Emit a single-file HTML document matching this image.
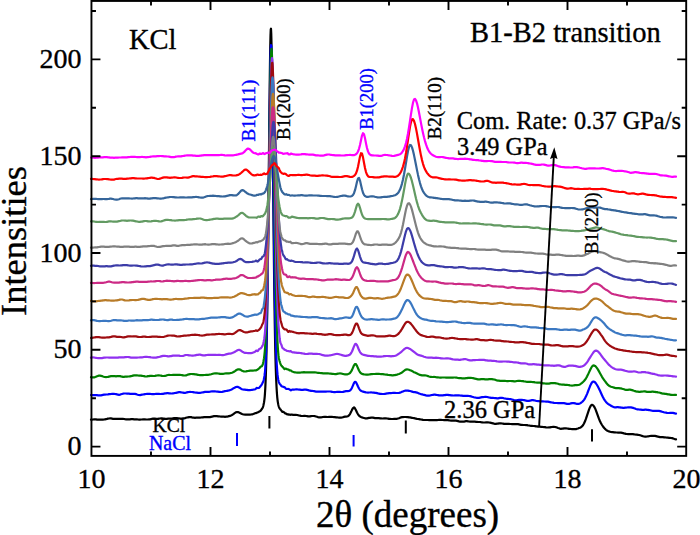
<!DOCTYPE html>
<html><head><meta charset="utf-8"><style>
html,body{margin:0;padding:0;background:#fff;}
svg{display:block;}
text{font-family:"Liberation Serif",serif;fill:#000;stroke:#000;stroke-width:0.35px;}
</style></head><body>
<svg width="700" height="535" viewBox="0 0 700 535">
<rect x="0" y="0" width="700" height="535" fill="#fff"/>
<g fill="none" stroke-width="2.2" stroke-linejoin="round" stroke-linecap="round">
<polyline points="91,419.7 92,419.6 93,419.5 94,419.4 95,419.4 96,419.4 97,419.6 98,419.7 99,419.7 100,419.7 101,419.7 102,419.6 103,419.6 104,419.5 105,419.3 106,419.1 107,418.9 108,418.6 109,418.5 110,418.4 111,418.4 112,418.6 113,418.8 114,418.9 115,418.9 116,418.9 117,418.8 118,418.8 119,418.8 120,418.8 121,418.8 122,418.8 123,418.9 124,419.0 125,419.2 126,419.3 127,419.4 128,419.4 129,419.4 130,419.3 131,419.2 132,419.2 133,419.2 134,419.3 135,419.3 136,419.4 137,419.4 138,419.5 139,419.6 140,419.6 141,419.5 142,419.5 143,419.4 144,419.4 145,419.4 146,419.5 147,419.5 148,419.5 149,419.4 150,419.3 151,419.1 152,418.9 153,418.7 154,418.7 155,418.7 156,418.8 157,418.9 158,418.8 159,418.6 160,418.5 161,418.4 162,418.4 163,418.5 164,418.6 165,418.8 166,418.8 167,418.8 168,418.7 169,418.7 170,418.6 171,418.6 172,418.5 173,418.3 174,418.2 175,418.1 176,418.1 177,418.2 178,418.3 179,418.4 180,418.5 181,418.5 182,418.5 183,418.4 184,418.3 185,418.1 186,417.8 187,417.5 188,417.3 189,417.1 190,417.0 191,417.1 192,417.4 193,417.6 194,417.7 195,417.8 196,417.7 197,417.7 198,417.7 199,417.6 200,417.6 201,417.5 202,417.4 203,417.3 204,417.2 205,417.1 206,417.1 207,417.1 208,417.1 209,417.1 210,417.1 211,416.9 212,416.7 213,416.4 214,416.2 215,416.1 216,416.1 217,416.2 218,416.3 219,416.4 220,416.5 221,416.6 222,416.6 223,416.7 224,416.7 225,416.8 226,416.7 227,416.6 228,416.4 229,416.1 230,415.9 231,415.5 232,415.0 233,414.4 234,413.6 235,412.9 236,412.3 237,412.0 238,412.1 239,412.5 240,413.0 241,413.5 242,414.0 243,414.3 244,414.5 245,414.6 246,414.7 247,414.7 248,414.7 249,414.7 250,414.6 251,414.5 252,414.3 253,414.1 254,413.7 255,413.3 255.25,413.2 255.50,413.1 255.75,413.1 256,413.1 256.25,413.1 256.50,413.0 256.75,412.8 257,412.6 257.25,412.5 257.50,412.4 257.75,412.3 258,412.3 258.25,412.2 258.50,412.1 258.75,411.9 259,411.7 259.25,411.6 259.50,411.4 259.75,411.3 260,411.2 260.25,411.1 260.50,410.8 260.75,410.5 261,410.2 261.25,409.8 261.50,409.4 261.75,409.1 262,408.9 262.25,408.5 262.50,408.1 262.75,407.6 263,406.9 263.25,406.1 263.50,405.0 263.75,403.8 264,402.5 264.25,400.8 264.50,398.8 264.75,396.3 265,392.9 265.25,388.7 265.50,383.5 265.75,377.3 266,369.9 266.25,361.1 266.50,350.8 266.75,338.7 267,324.7 267.25,308.9 267.50,291.1 267.75,271.5 268,249.9 268.25,226.8 268.50,202.3 268.75,177.1 269,151.7 269.25,126.7 269.50,102.9 269.75,81.0 270,62.0 270.25,46.4 270.50,35.3 270.75,29.3 271,28.7 271.25,33.7 271.50,43.9 271.75,58.8 272,77.5 272.25,99.2 272.50,122.8 272.75,147.6 273,172.9 273.25,197.9 273.50,222.4 273.75,245.7 274,267.6 274.25,287.8 274.50,306.1 274.75,322.4 275,336.6 275.25,348.7 275.50,359.0 275.75,367.6 276,374.9 276.25,381.0 276.50,386.2 276.75,390.6 277,394.3 277.25,397.3 277.50,399.6 277.75,401.6 278,403.1 278.25,404.4 278.50,405.5 278.75,406.4 279,407.1 279.25,407.7 279.50,408.2 279.75,408.6 280,408.9 280.25,409.2 280.50,409.5 280.75,409.8 281,410.0 281.25,410.4 281.50,410.7 281.75,411.1 282,411.5 282.25,411.8 282.50,411.9 282.75,411.9 283,411.8 283.25,411.8 283.50,411.9 283.75,412.1 284,412.3 284.25,412.5 284.50,412.7 284.75,413.0 285,413.3 285.25,413.5 285.50,413.6 285.75,413.6 286,413.6 286.25,413.6 286.50,413.8 286.75,414.0 287,414.3 287.25,414.4 287.50,414.5 287.75,414.4 288,414.4 288.25,414.4 288.50,414.4 288.75,414.6 289,414.6 289.25,414.7 289.50,414.7 289.75,414.7 290,414.7 290.25,414.8 290.50,414.8 290.75,414.7 291,414.6 291.25,414.6 291.50,414.6 291.75,414.7 292,414.7 293,414.8 294,414.8 295,414.8 296,414.9 297,415.0 298,415.2 299,415.5 300,415.7 301,415.9 302,416.0 303,416.0 304,415.9 305,415.9 306,416.0 307,416.1 308,416.3 309,416.3 310,416.3 311,416.1 312,416.0 313,416.0 314,416.0 315,416.2 316,416.5 317,416.8 318,417.1 319,417.3 320,417.4 321,417.3 322,417.2 323,417.0 324,416.9 325,416.9 326,416.9 327,417.0 328,417.0 329,416.9 330,416.8 331,416.8 332,416.9 333,417.0 334,417.1 335,417.2 336,417.3 337,417.3 338,417.5 339,417.6 340,417.7 341,417.7 342,417.5 343,417.2 344,416.9 345,416.7 346,416.6 347,416.5 348,416.2 349,415.4 350,414.1 351,412.1 352,409.9 353,408.1 354,407.4 355,408.4 356,410.3 357,412.5 358,414.3 359,415.6 360,416.5 361,417.0 362,417.4 363,417.7 364,418.0 365,418.3 366,418.3 367,418.3 368,418.1 369,417.9 370,417.8 371,417.7 372,417.6 373,417.7 374,417.9 375,418.1 376,418.1 377,418.1 378,418.1 379,418.2 380,418.3 381,418.4 382,418.5 383,418.5 384,418.4 385,418.4 386,418.4 387,418.5 388,418.6 389,418.8 390,418.9 391,419.0 392,419.0 393,419.0 394,418.9 395,418.9 396,418.9 397,418.8 398,418.5 399,418.2 400,417.7 401,417.4 402,417.2 403,417.1 404,417.0 405,417.0 406,417.0 407,417.1 408,417.1 409,417.3 410,417.4 411,417.6 412,417.8 413,418.0 414,418.2 415,418.4 416,418.7 417,418.9 418,419.0 419,419.1 420,419.3 421,419.5 422,419.7 423,419.9 424,420.0 425,420.0 426,420.0 427,420.0 428,420.0 429,420.1 430,420.1 431,420.1 432,420.1 433,420.1 434,420.2 435,420.2 436,420.2 437,420.1 438,420.0 439,419.9 440,419.9 441,419.9 442,420.0 443,420.0 444,420.1 445,420.1 446,420.1 447,420.1 448,420.2 449,420.3 450,420.5 451,420.6 452,420.7 453,420.7 454,420.7 455,420.7 456,420.7 457,420.9 458,421.1 459,421.4 460,421.6 461,421.7 462,421.7 463,421.7 464,421.6 465,421.4 466,421.2 467,421.2 468,421.3 469,421.5 470,421.6 471,421.6 472,421.6 473,421.7 474,421.7 475,421.7 476,421.8 477,421.9 478,422.0 479,422.0 480,422.0 481,422.2 482,422.3 483,422.5 484,422.5 485,422.5 486,422.4 487,422.3 488,422.4 489,422.5 490,422.7 491,422.9 492,423.1 493,423.3 494,423.6 495,423.8 496,423.8 497,423.7 498,423.6 499,423.4 500,423.3 501,423.4 502,423.5 503,423.6 504,423.8 505,423.9 506,423.9 507,423.9 508,423.9 509,423.9 510,424.0 511,424.0 512,424.1 513,424.1 514,424.1 515,424.1 516,424.1 517,424.1 518,424.2 519,424.4 520,424.6 521,424.8 522,424.9 523,425.0 524,425.0 525,425.0 526,425.1 527,425.2 528,425.4 529,425.5 530,425.7 531,425.8 532,425.9 533,426.0 534,426.0 535,426.1 536,426.3 537,426.4 538,426.6 539,426.7 540,426.7 541,426.8 542,426.9 543,427.0 544,427.1 545,427.2 546,427.4 547,427.5 548,427.5 549,427.4 550,427.3 551,427.1 552,427.0 553,426.9 554,426.9 555,427.0 556,427.2 557,427.6 558,428.0 559,428.3 560,428.6 561,428.8 562,428.7 563,428.6 564,428.4 565,428.3 566,428.3 567,428.5 568,428.6 569,428.8 570,428.9 571,429.0 572,429.1 573,429.2 574,429.2 575,429.2 576,429.1 577,428.8 578,428.5 579,428.1 580,427.7 581,427.2 582,426.4 583,425.2 584,423.5 585,421.3 586,418.7 587,415.7 588,412.7 589,409.7 590,407.2 591,405.4 592,404.8 593,405.2 594,406.4 595,408.2 596,410.6 597,413.4 598,416.2 599,418.9 600,421.2 601,423.3 602,425.0 603,426.5 604,427.7 605,428.9 606,429.8 607,430.5 608,431.0 609,431.4 610,431.7 611,432.0 612,432.1 613,432.2 614,432.3 615,432.4 616,432.5 617,432.5 618,432.6 619,432.5 620,432.6 621,432.6 622,432.8 623,433.1 624,433.4 625,433.6 626,433.9 627,434.0 628,434.1 629,434.1 630,434.1 631,434.1 632,434.1 633,434.2 634,434.3 635,434.5 636,434.6 637,434.7 638,434.8 639,435.0 640,435.2 641,435.5 642,435.9 643,436.2 644,436.5 645,436.6 646,436.6 647,436.5 648,436.3 649,436.2 650,436.0 651,435.9 652,435.8 653,435.8 654,435.8 655,435.9 656,436.1 657,436.4 658,436.7 659,436.9 660,437.1 661,437.1 662,437.2 663,437.2 664,437.3 665,437.4 666,437.5 667,437.6 668,437.7 669,437.8 670,437.9 671,438.0 672,438.1 673,438.4 674,438.8 675,439.1 676,439.3" stroke="#000000"/>
<polyline points="91,395.0 92,395.2 93,395.2 94,395.2 95,395.2 96,395.2 97,395.2 98,395.3 99,395.4 100,395.4 101,395.3 102,395.1 103,394.9 104,394.7 105,394.6 106,394.5 107,394.5 108,394.4 109,394.2 110,394.1 111,394.0 112,393.9 113,393.9 114,393.9 115,394.0 116,394.2 117,394.4 118,394.7 119,394.8 120,394.6 121,394.3 122,394.0 123,393.7 124,393.5 125,393.5 126,393.5 127,393.6 128,393.6 129,393.7 130,393.8 131,393.9 132,393.9 133,393.8 134,393.8 135,393.9 136,394.1 137,394.5 138,394.8 139,395.0 140,395.1 141,394.9 142,394.7 143,394.5 144,394.3 145,394.1 146,394.0 147,393.9 148,393.8 149,393.8 150,393.9 151,394.0 152,394.1 153,394.2 154,394.1 155,394.0 156,393.9 157,393.9 158,393.9 159,393.9 160,394.0 161,394.0 162,393.9 163,393.8 164,393.6 165,393.4 166,393.3 167,393.2 168,393.2 169,393.3 170,393.4 171,393.5 172,393.5 173,393.3 174,393.2 175,393.0 176,392.8 177,392.6 178,392.4 179,392.2 180,392.2 181,392.3 182,392.5 183,392.7 184,392.9 185,392.8 186,392.6 187,392.3 188,392.1 189,392.0 190,391.9 191,392.0 192,392.0 193,392.1 194,392.3 195,392.5 196,392.6 197,392.7 198,392.8 199,392.8 200,392.8 201,392.7 202,392.5 203,392.3 204,392.1 205,391.9 206,391.9 207,391.9 208,391.9 209,391.8 210,391.7 211,391.5 212,391.3 213,391.3 214,391.3 215,391.4 216,391.5 217,391.6 218,391.7 219,391.8 220,391.9 221,392.0 222,391.9 223,391.7 224,391.4 225,391.2 226,391.0 227,390.8 228,390.6 229,390.4 230,390.1 231,389.7 232,389.2 233,388.6 234,388.1 235,387.5 236,387.0 237,386.8 238,386.9 239,387.4 240,388.0 241,388.7 242,389.2 243,389.5 244,389.6 245,389.7 246,389.8 247,389.9 248,390.1 249,390.1 250,390.1 251,390.0 252,389.8 253,389.7 254,389.5 255,389.3 255.25,389.2 255.50,389.0 255.75,388.8 256,388.6 256.25,388.4 256.50,388.1 256.75,387.9 257,387.9 257.25,388.0 257.50,388.0 257.75,388.1 258,388.1 258.25,388.0 258.50,388.0 258.75,387.9 259,387.8 259.25,387.7 259.50,387.4 259.75,387.1 260,386.8 260.25,386.5 260.50,386.2 260.75,385.9 261,385.6 261.25,385.3 261.50,384.9 261.75,384.5 262,384.0 262.25,383.6 262.50,383.1 262.75,382.6 263,382.1 263.25,381.4 263.50,380.6 263.75,379.7 264,378.6 264.25,377.3 264.50,375.9 264.75,374.0 265,371.6 265.25,368.4 265.50,364.3 265.75,359.3 266,353.2 266.25,346.1 266.50,337.7 266.75,327.8 267,316.4 267.25,303.4 267.50,288.7 267.75,272.2 268,254.1 268.25,234.5 268.50,213.7 268.75,192.0 269,169.6 269.25,147.3 269.50,125.6 269.75,105.2 270,86.7 270.25,70.8 270.50,58.1 270.75,49.4 271,45.1 271.25,45.5 271.50,50.6 271.75,60.1 272,73.5 272.25,90.1 272.50,109.1 272.75,129.9 273,151.8 273.25,174.1 273.50,196.2 273.75,217.9 274,238.5 274.25,257.8 274.50,275.6 274.75,291.6 275,306.0 275.25,318.6 275.50,329.5 275.75,338.9 276,347.0 276.25,353.7 276.50,359.4 276.75,364.2 277,368.1 277.25,371.4 277.50,374.2 277.75,376.4 278,378.3 278.25,379.8 278.50,380.9 278.75,381.8 279,382.5 279.25,383.0 279.50,383.5 279.75,383.9 280,384.2 280.25,384.4 280.50,384.7 280.75,385.1 281,385.5 281.25,385.9 281.50,386.1 281.75,386.3 282,386.4 282.25,386.5 282.50,386.5 282.75,386.6 283,386.7 283.25,386.9 283.50,387.0 283.75,387.1 284,387.2 284.25,387.2 284.50,387.2 284.75,387.3 285,387.5 285.25,387.9 285.50,388.2 285.75,388.5 286,388.7 286.25,388.9 286.50,388.9 286.75,389.0 287,389.0 287.25,389.0 287.50,389.0 287.75,388.9 288,388.9 288.25,388.9 288.50,389.0 288.75,389.1 289,389.2 289.25,389.3 289.50,389.4 289.75,389.5 290,389.7 290.25,390.0 290.50,390.2 290.75,390.3 291,390.3 291.25,390.2 291.50,390.0 291.75,389.8 292,389.7 293,389.7 294,389.6 295,389.5 296,389.4 297,389.4 298,389.5 299,389.6 300,389.7 301,389.8 302,389.9 303,389.8 304,389.7 305,389.6 306,389.6 307,389.8 308,390.1 309,390.4 310,390.6 311,390.8 312,390.9 313,391.0 314,391.2 315,391.4 316,391.6 317,391.7 318,391.7 319,391.6 320,391.6 321,391.6 322,391.7 323,391.7 324,391.7 325,391.7 326,391.6 327,391.5 328,391.5 329,391.5 330,391.5 331,391.6 332,391.8 333,392.0 334,392.1 335,392.1 336,392.0 337,391.9 338,391.8 339,391.9 340,391.9 341,392.0 342,392.0 343,391.9 344,391.6 345,391.4 346,391.2 347,391.1 348,391.1 349,391.0 350,390.5 351,389.5 352,387.7 353,385.3 354,383.0 355,381.8 356,382.3 357,384.2 358,386.5 359,388.5 360,390.0 361,390.8 362,391.3 363,391.6 364,391.9 365,392.2 366,392.4 367,392.5 368,392.6 369,392.5 370,392.5 371,392.4 372,392.5 373,392.6 374,392.7 375,392.8 376,392.9 377,393.1 378,393.4 379,393.6 380,393.8 381,393.9 382,394.0 383,394.0 384,394.0 385,393.8 386,393.7 387,393.4 388,393.3 389,393.2 390,393.1 391,393.1 392,393.0 393,392.9 394,392.9 395,392.9 396,393.0 397,393.0 398,393.0 399,392.9 400,392.7 401,392.3 402,391.8 403,391.4 404,391.0 405,390.7 406,390.6 407,390.6 408,390.6 409,390.8 410,391.0 411,391.3 412,391.6 413,391.9 414,392.1 415,392.2 416,392.4 417,392.6 418,393.0 419,393.4 420,393.8 421,394.1 422,394.3 423,394.6 424,394.8 425,395.1 426,395.4 427,395.6 428,395.7 429,395.7 430,395.5 431,395.2 432,395.0 433,394.8 434,394.7 435,394.7 436,394.8 437,395.0 438,395.2 439,395.4 440,395.4 441,395.4 442,395.4 443,395.3 444,395.2 445,395.1 446,394.9 447,394.9 448,394.9 449,395.1 450,395.2 451,395.3 452,395.4 453,395.5 454,395.5 455,395.4 456,395.3 457,395.3 458,395.3 459,395.4 460,395.5 461,395.6 462,395.7 463,395.8 464,395.9 465,395.9 466,395.9 467,395.9 468,395.9 469,396.0 470,396.2 471,396.4 472,396.7 473,397.0 474,397.3 475,397.5 476,397.7 477,397.8 478,397.8 479,397.8 480,397.6 481,397.4 482,397.2 483,397.1 484,397.0 485,396.9 486,396.9 487,397.0 488,397.2 489,397.5 490,397.7 491,397.9 492,397.9 493,397.9 494,398.0 495,398.1 496,398.2 497,398.3 498,398.3 499,398.1 500,397.9 501,397.8 502,397.8 503,398.0 504,398.3 505,398.5 506,398.7 507,398.8 508,398.9 509,399.0 510,399.1 511,399.2 512,399.5 513,399.8 514,400.1 515,400.3 516,400.3 517,400.2 518,400.0 519,399.8 520,399.8 521,399.8 522,399.9 523,400.0 524,400.2 525,400.4 526,400.6 527,400.8 528,400.9 529,400.8 530,400.7 531,400.4 532,400.2 533,400.2 534,400.3 535,400.5 536,400.8 537,401.0 538,401.1 539,401.2 540,401.3 541,401.3 542,401.3 543,401.4 544,401.5 545,401.5 546,401.6 547,401.6 548,401.7 549,401.9 550,402.1 551,402.3 552,402.5 553,402.7 554,402.9 555,403.0 556,403.0 557,403.0 558,403.1 559,403.2 560,403.2 561,403.2 562,403.2 563,403.1 564,403.2 565,403.4 566,403.6 567,403.8 568,403.9 569,403.8 570,403.6 571,403.3 572,403.1 573,403.0 574,403.1 575,403.3 576,403.6 577,403.8 578,403.9 579,403.8 580,403.4 581,402.8 582,402.0 583,401.1 584,399.8 585,398.3 586,396.3 587,394.1 588,391.5 589,388.8 590,386.3 591,384.1 592,382.4 593,381.6 594,381.7 595,382.3 596,383.5 597,385.0 598,386.8 599,388.7 600,390.8 601,393.0 602,395.2 603,397.3 604,399.1 605,400.6 606,401.9 607,403.0 608,403.9 609,404.6 610,405.1 611,405.7 612,406.3 613,406.8 614,407.1 615,407.3 616,407.3 617,407.2 618,407.2 619,407.3 620,407.4 621,407.6 622,407.7 623,407.8 624,407.8 625,407.7 626,407.6 627,407.5 628,407.4 629,407.4 630,407.4 631,407.4 632,407.6 633,407.8 634,408.2 635,408.6 636,409.0 637,409.3 638,409.4 639,409.5 640,409.6 641,409.7 642,409.8 643,409.8 644,409.8 645,409.7 646,409.7 647,409.8 648,409.9 649,410.1 650,410.2 651,410.5 652,410.7 653,410.8 654,410.9 655,410.8 656,410.8 657,410.8 658,410.8 659,410.9 660,411.1 661,411.4 662,411.7 663,412.0 664,412.3 665,412.5 666,412.7 667,412.9 668,413.0 669,413.0 670,412.9 671,412.8 672,412.8 673,412.9 674,413.1 675,413.4 676,413.6" stroke="#0000ff"/>
<polyline points="91,377.2 92,377.4 93,377.4 94,377.4 95,377.1 96,376.7 97,376.3 98,375.9 99,375.7 100,375.6 101,375.8 102,376.1 103,376.5 104,376.8 105,377.0 106,377.1 107,377.0 108,376.9 109,376.6 110,376.4 111,376.2 112,376.1 113,376.1 114,376.1 115,376.2 116,376.3 117,376.2 118,376.1 119,376.1 120,376.1 121,376.4 122,376.6 123,376.8 124,376.8 125,376.7 126,376.6 127,376.6 128,376.5 129,376.5 130,376.3 131,376.1 132,375.9 133,375.6 134,375.4 135,375.3 136,375.4 137,375.4 138,375.5 139,375.6 140,375.6 141,375.6 142,375.8 143,376.0 144,376.2 145,376.4 146,376.5 147,376.4 148,376.2 149,376.1 150,375.9 151,375.9 152,375.9 153,376.0 154,376.0 155,375.9 156,375.7 157,375.5 158,375.4 159,375.4 160,375.5 161,375.6 162,375.9 163,376.0 164,376.0 165,375.8 166,375.6 167,375.3 168,375.0 169,374.9 170,375.0 171,375.0 172,375.0 173,374.9 174,374.8 175,374.8 176,374.8 177,374.9 178,374.9 179,374.9 180,374.9 181,375.0 182,375.1 183,375.3 184,375.5 185,375.5 186,375.4 187,375.0 188,374.6 189,374.3 190,374.1 191,374.0 192,374.0 193,374.1 194,374.2 195,374.3 196,374.4 197,374.6 198,374.8 199,375.0 200,375.2 201,375.2 202,375.2 203,375.1 204,375.0 205,375.0 206,374.9 207,374.9 208,374.8 209,374.7 210,374.5 211,374.3 212,374.0 213,373.7 214,373.5 215,373.3 216,373.3 217,373.4 218,373.5 219,373.6 220,373.8 221,373.9 222,373.9 223,373.8 224,373.7 225,373.5 226,373.3 227,373.3 228,373.3 229,373.3 230,373.2 231,373.0 232,372.7 233,372.3 234,371.7 235,371.1 236,370.3 237,369.7 238,369.4 239,369.3 240,369.6 241,370.1 242,370.7 243,371.1 244,371.4 245,371.5 246,371.4 247,371.2 248,371.0 249,370.8 250,370.7 251,370.7 252,370.7 253,370.6 254,370.5 255,370.4 255.25,370.5 255.50,370.5 255.75,370.5 256,370.4 256.25,370.2 256.50,370.2 256.75,370.1 257,370.0 257.25,369.8 257.50,369.6 257.75,369.4 258,369.3 258.25,369.1 258.50,368.9 258.75,368.7 259,368.5 259.25,368.3 259.50,368.1 259.75,367.7 260,367.4 260.25,367.0 260.50,366.7 260.75,366.6 261,366.5 261.25,366.5 261.50,366.4 261.75,366.3 262,366.0 262.25,365.6 262.50,365.1 262.75,364.4 263,363.5 263.25,362.4 263.50,361.2 263.75,359.8 264,358.2 264.25,356.3 264.50,354.1 264.75,351.6 265,348.6 265.25,345.0 265.50,340.8 265.75,335.9 266,330.2 266.25,323.5 266.50,315.7 266.75,306.8 267,296.7 267.25,285.4 267.50,272.8 267.75,259.1 268,244.1 268.25,228.0 268.50,211.0 268.75,193.2 269,174.8 269.25,156.2 269.50,137.7 269.75,119.8 270,102.9 270.25,87.6 270.50,74.3 270.75,63.5 271,55.4 271.25,50.5 271.50,48.9 271.75,50.8 272,56.0 272.25,64.3 272.50,75.4 272.75,88.7 273,103.9 273.25,120.6 273.50,138.3 273.75,156.6 274,175.0 274.25,193.2 274.50,211.0 274.75,227.9 275,243.9 275.25,258.9 275.50,272.7 275.75,285.3 276,296.8 276.25,307.0 276.50,316.0 276.75,323.9 277,330.7 277.25,336.7 277.50,341.9 277.75,346.3 278,350.0 278.25,353.0 278.50,355.4 278.75,357.2 279,358.7 279.25,359.8 279.50,360.8 279.75,361.7 280,362.5 280.25,363.2 280.50,363.9 280.75,364.4 281,365.0 281.25,365.4 281.50,365.7 281.75,366.0 282,366.3 282.25,366.6 282.50,366.9 282.75,367.1 283,367.4 283.25,367.6 283.50,367.9 283.75,368.2 284,368.6 284.25,368.9 284.50,369.1 284.75,369.1 285,369.0 285.25,368.8 285.50,368.7 285.75,368.6 286,368.7 286.25,368.8 286.50,369.0 286.75,369.2 287,369.2 287.25,369.3 287.50,369.3 287.75,369.4 288,369.4 288.25,369.5 288.50,369.6 288.75,369.7 289,369.9 289.25,370.2 289.50,370.4 289.75,370.4 290,370.4 290.25,370.4 290.50,370.4 290.75,370.5 291,370.6 291.25,370.8 291.50,371.0 291.75,371.2 292,371.4 293,371.8 294,372.1 295,372.3 296,372.5 297,372.6 298,372.7 299,372.7 300,372.6 301,372.5 302,372.3 303,372.3 304,372.2 305,372.3 306,372.4 307,372.4 308,372.4 309,372.4 310,372.3 311,372.3 312,372.4 313,372.4 314,372.4 315,372.4 316,372.5 317,372.7 318,372.8 319,372.9 320,373.0 321,373.1 322,373.2 323,373.3 324,373.3 325,373.3 326,373.3 327,373.3 328,373.4 329,373.5 330,373.6 331,373.7 332,373.8 333,373.9 334,374.0 335,374.1 336,374.1 337,373.9 338,373.7 339,373.5 340,373.4 341,373.5 342,373.7 343,374.0 344,374.2 345,374.3 346,374.3 347,374.3 348,374.1 349,373.7 350,373.0 351,371.7 352,369.9 353,367.6 354,365.3 355,364.0 356,364.2 357,365.9 358,368.3 359,370.5 360,372.2 361,373.3 362,373.9 363,374.2 364,374.4 365,374.5 366,374.6 367,374.7 368,374.6 369,374.5 370,374.3 371,374.2 372,374.1 373,374.0 374,374.0 375,374.0 376,373.9 377,373.8 378,373.8 379,373.9 380,374.0 381,374.1 382,374.2 383,374.2 384,374.3 385,374.5 386,374.6 387,374.7 388,374.9 389,375.0 390,375.1 391,375.2 392,375.3 393,375.3 394,375.2 395,375.1 396,374.8 397,374.6 398,374.3 399,374.0 400,373.6 401,373.1 402,372.5 403,371.7 404,370.8 405,370.1 406,369.6 407,369.4 408,369.5 409,369.8 410,370.2 411,370.6 412,371.1 413,371.6 414,372.2 415,372.6 416,373.1 417,373.6 418,374.1 419,374.5 420,374.9 421,375.1 422,375.3 423,375.3 424,375.3 425,375.4 426,375.5 427,375.8 428,376.1 429,376.5 430,376.8 431,376.9 432,377.0 433,377.0 434,376.9 435,377.0 436,377.2 437,377.3 438,377.4 439,377.5 440,377.6 441,377.6 442,377.5 443,377.5 444,377.5 445,377.5 446,377.6 447,377.7 448,377.7 449,377.7 450,377.7 451,377.7 452,377.7 453,377.6 454,377.5 455,377.5 456,377.6 457,377.7 458,378.0 459,378.1 460,378.2 461,378.2 462,378.3 463,378.4 464,378.4 465,378.3 466,378.2 467,378.1 468,377.9 469,377.8 470,377.8 471,377.9 472,378.0 473,378.2 474,378.4 475,378.7 476,378.9 477,379.1 478,379.3 479,379.3 480,379.3 481,379.2 482,379.1 483,379.1 484,379.2 485,379.3 486,379.3 487,379.3 488,379.3 489,379.2 490,379.1 491,379.1 492,379.2 493,379.3 494,379.5 495,379.7 496,380.1 497,380.4 498,380.6 499,380.7 500,380.8 501,380.8 502,380.8 503,380.8 504,380.8 505,380.9 506,381.0 507,381.1 508,381.1 509,381.0 510,381.0 511,381.0 512,381.1 513,381.2 514,381.3 515,381.3 516,381.2 517,381.0 518,380.9 519,380.9 520,380.9 521,381.0 522,381.1 523,381.2 524,381.4 525,381.5 526,381.7 527,381.8 528,381.8 529,381.8 530,381.8 531,381.9 532,382.0 533,382.1 534,382.2 535,382.4 536,382.5 537,382.6 538,382.6 539,382.6 540,382.7 541,382.9 542,383.1 543,383.3 544,383.4 545,383.5 546,383.6 547,383.6 548,383.6 549,383.6 550,383.4 551,383.2 552,383.1 553,383.0 554,383.1 555,383.1 556,383.3 557,383.5 558,383.8 559,384.1 560,384.3 561,384.5 562,384.6 563,384.6 564,384.7 565,384.8 566,384.9 567,384.9 568,385.0 569,385.2 570,385.4 571,385.5 572,385.6 573,385.5 574,385.3 575,385.1 576,385.1 577,385.1 578,385.0 579,384.8 580,384.4 581,383.7 582,382.9 583,382.0 584,381.0 585,379.8 586,378.3 587,376.6 588,374.6 589,372.4 590,370.2 591,368.2 592,366.5 593,365.6 594,365.4 595,365.9 596,366.8 597,368.1 598,369.6 599,371.4 600,373.2 601,375.0 602,376.8 603,378.4 604,379.8 605,381.2 606,382.5 607,383.8 608,384.9 609,385.7 610,386.3 611,386.7 612,387.0 613,387.3 614,387.6 615,387.9 616,388.1 617,388.2 618,388.2 619,388.2 620,388.3 621,388.4 622,388.7 623,389.0 624,389.3 625,389.6 626,389.8 627,389.8 628,389.8 629,389.7 630,389.7 631,389.9 632,390.1 633,390.4 634,390.8 635,391.1 636,391.4 637,391.6 638,391.7 639,391.8 640,391.8 641,391.7 642,391.6 643,391.5 644,391.4 645,391.4 646,391.6 647,391.8 648,391.9 649,391.9 650,391.9 651,391.8 652,391.7 653,391.7 654,391.8 655,391.9 656,392.1 657,392.2 658,392.4 659,392.5 660,392.8 661,393.1 662,393.4 663,393.6 664,393.7 665,393.8 666,393.9 667,394.1 668,394.3 669,394.4 670,394.6 671,394.8 672,394.9 673,395.0 674,394.9 675,394.9 676,394.8" stroke="#008000"/>
<polyline points="91,357.7 92,357.5 93,357.4 94,357.5 95,357.7 96,357.8 97,358.0 98,358.1 99,358.2 100,358.2 101,358.2 102,358.1 103,357.9 104,357.7 105,357.6 106,357.5 107,357.5 108,357.5 109,357.6 110,357.6 111,357.6 112,357.6 113,357.6 114,357.6 115,357.6 116,357.7 117,357.7 118,357.6 119,357.4 120,357.3 121,357.3 122,357.3 123,357.3 124,357.3 125,357.2 126,357.1 127,357.0 128,357.0 129,357.2 130,357.4 131,357.6 132,357.6 133,357.6 134,357.6 135,357.6 136,357.6 137,357.6 138,357.5 139,357.5 140,357.4 141,357.4 142,357.3 143,357.2 144,357.0 145,356.9 146,356.9 147,356.9 148,357.0 149,357.1 150,357.2 151,357.4 152,357.5 153,357.6 154,357.7 155,357.6 156,357.6 157,357.4 158,357.2 159,357.0 160,356.7 161,356.4 162,356.1 163,355.9 164,355.8 165,355.9 166,356.0 167,356.1 168,356.3 169,356.3 170,356.2 171,356.1 172,355.9 173,355.7 174,355.6 175,355.6 176,355.6 177,355.6 178,355.6 179,355.7 180,355.9 181,356.0 182,356.0 183,355.9 184,355.6 185,355.2 186,355.0 187,355.0 188,355.1 189,355.3 190,355.4 191,355.5 192,355.6 193,355.6 194,355.5 195,355.3 196,355.1 197,354.9 198,354.8 199,354.7 200,354.7 201,354.9 202,355.2 203,355.4 204,355.4 205,355.3 206,355.1 207,355.0 208,354.9 209,354.8 210,354.8 211,354.8 212,354.8 213,354.8 214,354.8 215,354.9 216,354.9 217,355.0 218,354.9 219,354.9 220,354.9 221,355.0 222,355.1 223,355.2 224,355.0 225,354.7 226,354.4 227,354.1 228,353.9 229,353.7 230,353.6 231,353.4 232,353.1 233,352.7 234,352.3 235,351.7 236,351.1 237,350.5 238,350.0 239,349.8 240,350.1 241,350.7 242,351.5 243,352.1 244,352.6 245,352.8 246,352.9 247,353.0 248,353.1 249,353.2 250,353.2 251,353.1 252,352.9 253,352.6 254,352.2 255,351.8 255.25,351.5 255.50,351.3 255.75,351.0 256,350.7 256.25,350.5 256.50,350.5 256.75,350.5 257,350.7 257.25,351.0 257.50,351.1 257.75,351.1 258,350.8 258.25,350.4 258.50,350.0 258.75,349.6 259,349.3 259.25,349.1 259.50,348.9 259.75,348.8 260,348.7 260.25,348.6 260.50,348.5 260.75,348.4 261,348.1 261.25,347.7 261.50,347.4 261.75,347.0 262,346.6 262.25,346.2 262.50,345.8 262.75,345.2 263,344.4 263.25,343.5 263.50,342.4 263.75,341.3 264,340.0 264.25,338.5 264.50,336.7 264.75,334.6 265,332.1 265.25,329.2 265.50,325.6 265.75,321.5 266,316.6 266.25,311.0 266.50,304.5 266.75,297.2 267,288.9 267.25,279.7 267.50,269.6 267.75,258.6 268,246.6 268.25,233.6 268.50,219.8 268.75,205.2 269,190.1 269.25,174.8 269.50,159.6 269.75,144.4 270,129.5 270.25,115.0 270.50,101.4 270.75,89.1 271,78.3 271.25,69.6 271.50,63.1 271.75,59.3 272,58.1 272.25,59.6 272.50,63.6 272.75,70.1 273,78.8 273.25,89.4 273.50,101.7 273.75,115.3 274,129.8 274.25,144.9 274.50,160.4 274.75,176.0 275,191.5 275.25,206.6 275.50,221.1 275.75,234.8 276,247.7 276.25,259.6 276.50,270.6 276.75,280.4 277,289.2 277.25,297.1 277.50,304.1 277.75,310.4 278,315.9 278.25,320.7 278.50,324.8 278.75,328.3 279,331.4 279.25,334.2 279.50,336.7 279.75,339.0 280,340.8 280.25,342.2 280.50,343.0 280.75,343.5 281,343.9 281.25,344.4 281.50,345.1 281.75,345.9 282,346.7 282.25,347.4 282.50,347.9 282.75,348.2 283,348.4 283.25,348.5 283.50,348.6 283.75,348.8 284,349.1 284.25,349.4 284.50,349.7 284.75,349.8 285,349.8 285.25,349.9 285.50,350.0 285.75,350.1 286,350.3 286.25,350.5 286.50,350.7 286.75,350.8 287,350.9 287.25,350.9 287.50,351.0 287.75,351.0 288,351.1 288.25,351.1 288.50,351.2 288.75,351.2 289,351.2 289.25,351.3 289.50,351.3 289.75,351.4 290,351.3 290.25,351.2 290.50,351.2 290.75,351.2 291,351.4 291.25,351.6 291.50,351.8 291.75,352.0 292,352.1 293,352.3 294,352.4 295,352.6 296,352.7 297,352.8 298,352.9 299,352.9 300,353.0 301,353.1 302,353.3 303,353.5 304,353.7 305,353.9 306,354.0 307,354.0 308,353.8 309,353.6 310,353.6 311,353.6 312,353.7 313,353.8 314,353.9 315,353.9 316,353.9 317,353.9 318,354.0 319,354.0 320,354.2 321,354.5 322,354.9 323,355.2 324,355.4 325,355.6 326,355.6 327,355.7 328,355.6 329,355.5 330,355.3 331,355.2 332,355.0 333,354.7 334,354.5 335,354.2 336,354.0 337,353.9 338,354.0 339,354.2 340,354.5 341,354.8 342,355.1 343,355.4 344,355.7 345,355.8 346,355.8 347,355.6 348,355.4 349,355.1 350,354.5 351,353.3 352,351.5 353,349.0 354,346.4 355,344.3 356,343.8 357,345.1 358,347.5 359,350.1 360,352.1 361,353.4 362,354.2 363,354.6 364,354.9 365,355.2 366,355.4 367,355.6 368,355.8 369,355.9 370,356.0 371,356.1 372,356.2 373,356.2 374,356.3 375,356.4 376,356.4 377,356.6 378,356.7 379,356.7 380,356.7 381,356.7 382,356.5 383,356.4 384,356.2 385,356.1 386,356.0 387,356.0 388,356.0 389,356.1 390,356.2 391,356.3 392,356.2 393,356.2 394,356.0 395,355.8 396,355.4 397,354.9 398,354.3 399,353.6 400,352.9 401,352.1 402,351.2 403,350.3 404,349.4 405,348.6 406,348.0 407,347.8 408,348.0 409,348.4 410,348.9 411,349.6 412,350.3 413,351.1 414,351.9 415,352.7 416,353.5 417,354.2 418,354.8 419,355.2 420,355.4 421,355.7 422,355.9 423,356.3 424,356.7 425,357.0 426,357.3 427,357.5 428,357.6 429,357.6 430,357.6 431,357.6 432,357.7 433,357.8 434,357.8 435,357.8 436,357.7 437,357.8 438,357.8 439,358.0 440,358.1 441,358.3 442,358.4 443,358.5 444,358.5 445,358.5 446,358.4 447,358.4 448,358.4 449,358.5 450,358.7 451,358.9 452,359.2 453,359.4 454,359.5 455,359.6 456,359.6 457,359.7 458,359.7 459,359.8 460,359.8 461,359.6 462,359.5 463,359.3 464,359.1 465,359.1 466,359.2 467,359.5 468,359.9 469,360.2 470,360.4 471,360.4 472,360.4 473,360.2 474,360.1 475,360.1 476,360.0 477,360.0 478,360.0 479,359.9 480,359.9 481,359.9 482,359.9 483,359.9 484,359.9 485,360.1 486,360.3 487,360.4 488,360.6 489,360.7 490,360.7 491,360.7 492,360.8 493,360.8 494,360.9 495,361.0 496,361.2 497,361.4 498,361.5 499,361.6 500,361.6 501,361.6 502,361.6 503,361.5 504,361.5 505,361.5 506,361.5 507,361.6 508,361.7 509,361.7 510,361.8 511,361.9 512,362.0 513,362.2 514,362.3 515,362.4 516,362.4 517,362.5 518,362.6 519,362.9 520,363.1 521,363.3 522,363.4 523,363.3 524,363.3 525,363.4 526,363.5 527,363.8 528,364.1 529,364.3 530,364.4 531,364.4 532,364.3 533,364.2 534,364.2 535,364.3 536,364.4 537,364.6 538,364.7 539,364.7 540,364.8 541,364.9 542,365.0 543,365.2 544,365.3 545,365.3 546,365.4 547,365.4 548,365.4 549,365.4 550,365.5 551,365.6 552,365.7 553,365.7 554,365.8 555,365.7 556,365.6 557,365.4 558,365.4 559,365.4 560,365.6 561,366.0 562,366.4 563,366.7 564,366.9 565,366.8 566,366.6 567,366.2 568,365.9 569,365.7 570,365.6 571,365.6 572,365.7 573,365.7 574,365.8 575,365.9 576,366.1 577,366.4 578,366.7 579,366.9 580,366.9 581,366.7 582,366.5 583,366.1 584,365.5 585,364.7 586,363.6 587,362.3 588,360.8 589,359.2 590,357.6 591,356.0 592,354.5 593,353.0 594,351.7 595,350.9 596,350.6 597,350.9 598,351.5 599,352.5 600,353.7 601,355.1 602,356.5 603,357.8 604,359.1 605,360.2 606,361.4 607,362.6 608,363.8 609,364.9 610,365.8 611,366.7 612,367.4 613,368.0 614,368.5 615,369.0 616,369.3 617,369.5 618,369.6 619,369.6 620,369.6 621,369.7 622,369.8 623,370.1 624,370.4 625,370.7 626,371.0 627,371.2 628,371.5 629,371.7 630,371.7 631,371.7 632,371.6 633,371.5 634,371.4 635,371.5 636,371.7 637,372.0 638,372.3 639,372.5 640,372.5 641,372.4 642,372.2 643,372.1 644,372.1 645,372.2 646,372.4 647,372.5 648,372.7 649,372.9 650,373.1 651,373.4 652,373.6 653,373.8 654,373.9 655,374.2 656,374.5 657,374.8 658,375.1 659,375.3 660,375.5 661,375.6 662,375.6 663,375.6 664,375.5 665,375.5 666,375.5 667,375.6 668,375.7 669,375.8 670,375.9 671,376.0 672,376.1 673,376.3 674,376.4 675,376.5 676,376.6" stroke="#9030f0"/>
<polyline points="91,337.9 92,337.9 93,337.7 94,337.5 95,337.3 96,337.1 97,337.0 98,337.1 99,337.2 100,337.3 101,337.5 102,337.6 103,337.7 104,337.7 105,337.6 106,337.5 107,337.4 108,337.3 109,337.3 110,337.1 111,336.9 112,336.6 113,336.4 114,336.3 115,336.4 116,336.6 117,336.8 118,336.9 119,336.9 120,336.9 121,337.0 122,337.2 123,337.3 124,337.4 125,337.2 126,337.0 127,336.6 128,336.4 129,336.3 130,336.4 131,336.4 132,336.5 133,336.4 134,336.4 135,336.3 136,336.4 137,336.6 138,336.8 139,337.0 140,337.0 141,337.0 142,336.8 143,336.6 144,336.6 145,336.6 146,336.8 147,337.0 148,337.0 149,337.0 150,336.9 151,336.8 152,336.7 153,336.7 154,336.7 155,336.7 156,336.7 157,336.7 158,336.8 159,336.9 160,336.9 161,337.0 162,337.0 163,337.0 164,336.8 165,336.5 166,336.2 167,335.9 168,335.6 169,335.5 170,335.5 171,335.5 172,335.6 173,335.6 174,335.7 175,335.9 176,336.2 177,336.4 178,336.5 179,336.4 180,336.3 181,336.1 182,336.0 183,335.8 184,335.7 185,335.6 186,335.6 187,335.5 188,335.4 189,335.3 190,335.2 191,335.0 192,334.9 193,334.8 194,334.8 195,334.7 196,334.8 197,334.9 198,335.0 199,335.2 200,335.4 201,335.5 202,335.6 203,335.5 204,335.3 205,335.1 206,334.9 207,334.7 208,334.6 209,334.6 210,334.5 211,334.5 212,334.4 213,334.4 214,334.4 215,334.3 216,334.2 217,334.1 218,334.0 219,333.9 220,334.0 221,334.0 222,334.1 223,334.2 224,334.3 225,334.3 226,334.2 227,334.0 228,333.9 229,333.8 230,333.9 231,334.0 232,334.1 233,334.0 234,333.5 235,332.9 236,332.1 237,331.3 238,330.6 239,330.2 240,330.1 241,330.4 242,330.9 243,331.5 244,332.0 245,332.3 246,332.4 247,332.3 248,332.1 249,331.8 250,331.6 251,331.4 252,331.3 253,331.2 254,331.0 255,330.8 255.25,330.7 255.50,330.6 255.75,330.4 256,330.3 256.25,330.4 256.50,330.5 256.75,330.7 257,330.9 257.25,330.9 257.50,330.8 257.75,330.7 258,330.5 258.25,330.3 258.50,330.1 258.75,329.9 259,329.8 259.25,329.6 259.50,329.4 259.75,329.1 260,328.8 260.25,328.4 260.50,328.1 260.75,327.8 261,327.4 261.25,326.9 261.50,326.3 261.75,325.7 262,325.0 262.25,324.5 262.50,324.0 262.75,323.6 263,323.1 263.25,322.3 263.50,321.3 263.75,319.9 264,318.3 264.25,316.4 264.50,314.3 264.75,312.0 265,309.4 265.25,306.3 265.50,302.8 265.75,298.7 266,294.0 266.25,288.7 266.50,282.7 266.75,276.0 267,268.6 267.25,260.4 267.50,251.4 267.75,241.6 268,231.0 268.25,219.7 268.50,207.9 268.75,195.7 269,183.1 269.25,170.2 269.50,157.2 269.75,144.1 270,131.1 270.25,118.5 270.50,106.5 270.75,95.4 271,85.5 271.25,77.2 271.50,70.6 271.75,66.0 272,63.3 272.25,62.8 272.50,64.3 272.75,68.0 273,73.7 273.25,81.2 273.50,90.2 273.75,100.5 274,111.8 274.25,123.8 274.50,136.4 274.75,149.3 275,162.4 275.25,175.5 275.50,188.5 275.75,201.0 276,213.1 276.25,224.5 276.50,235.3 276.75,245.4 277,254.8 277.25,263.6 277.50,271.6 277.75,278.8 278,285.4 278.25,291.2 278.50,296.3 278.75,300.8 279,304.8 279.25,308.3 279.50,311.3 279.75,313.8 280,316.1 280.25,317.9 280.50,319.5 280.75,320.8 281,321.9 281.25,322.8 281.50,323.7 281.75,324.5 282,325.3 282.25,326.1 282.50,326.8 282.75,327.4 283,327.8 283.25,328.1 283.50,328.4 283.75,328.7 284,328.9 284.25,329.1 284.50,329.3 284.75,329.4 285,329.5 285.25,329.5 285.50,329.4 285.75,329.4 286,329.4 286.25,329.5 286.50,329.7 286.75,329.9 287,330.2 287.25,330.6 287.50,331.0 287.75,331.4 288,331.7 288.25,331.9 288.50,331.9 288.75,331.7 289,331.3 289.25,331.0 289.50,330.9 289.75,331.0 290,331.3 290.25,331.5 290.50,331.7 290.75,331.7 291,331.6 291.25,331.5 291.50,331.4 291.75,331.5 292,331.6 293,331.9 294,332.2 295,332.5 296,332.8 297,333.1 298,333.2 299,333.3 300,333.2 301,333.1 302,333.0 303,333.1 304,333.2 305,333.3 306,333.4 307,333.4 308,333.5 309,333.5 310,333.6 311,333.7 312,333.8 313,333.8 314,333.7 315,333.7 316,333.7 317,333.9 318,334.0 319,334.1 320,334.1 321,334.2 322,334.4 323,334.6 324,334.7 325,334.8 326,334.7 327,334.6 328,334.4 329,334.2 330,334.1 331,334.2 332,334.4 333,334.6 334,334.9 335,335.0 336,335.1 337,335.1 338,335.1 339,335.1 340,335.1 341,335.0 342,334.9 343,334.8 344,334.6 345,334.6 346,334.7 347,334.9 348,335.1 349,335.2 350,335.0 351,334.3 352,333.0 353,330.9 354,328.1 355,325.4 356,323.5 357,323.6 358,325.5 359,328.3 360,330.9 361,332.9 362,334.0 363,334.6 364,334.9 365,335.2 366,335.4 367,335.6 368,335.8 369,335.7 370,335.6 371,335.4 372,335.3 373,335.4 374,335.5 375,335.8 376,336.1 377,336.3 378,336.4 379,336.4 380,336.3 381,336.3 382,336.3 383,336.3 384,336.3 385,336.3 386,336.2 387,336.1 388,335.8 389,335.7 390,335.7 391,335.8 392,336.0 393,336.2 394,336.2 395,336.0 396,335.6 397,334.9 398,334.1 399,333.1 400,331.9 401,330.5 402,328.9 403,327.1 404,325.4 405,323.7 406,322.5 407,321.8 408,321.8 409,322.2 410,322.9 411,323.9 412,325.1 413,326.4 414,327.8 415,329.2 416,330.5 417,331.8 418,332.9 419,333.8 420,334.5 421,335.1 422,335.4 423,335.7 424,336.0 425,336.3 426,336.6 427,336.9 428,337.0 429,337.0 430,336.8 431,336.7 432,336.7 433,336.7 434,336.9 435,337.1 436,337.3 437,337.4 438,337.4 439,337.4 440,337.5 441,337.7 442,338.0 443,338.2 444,338.4 445,338.5 446,338.6 447,338.6 448,338.5 449,338.4 450,338.2 451,338.0 452,337.9 453,338.0 454,338.1 455,338.3 456,338.5 457,338.7 458,338.9 459,339.0 460,339.1 461,339.2 462,339.2 463,339.1 464,339.0 465,339.0 466,339.1 467,339.3 468,339.4 469,339.5 470,339.5 471,339.6 472,339.7 473,339.6 474,339.5 475,339.3 476,339.2 477,339.2 478,339.4 479,339.6 480,339.9 481,340.1 482,340.2 483,340.2 484,340.2 485,340.3 486,340.3 487,340.3 488,340.2 489,340.0 490,339.9 491,339.9 492,340.0 493,340.2 494,340.4 495,340.5 496,340.7 497,340.7 498,340.7 499,340.7 500,340.7 501,340.9 502,341.1 503,341.2 504,341.3 505,341.4 506,341.4 507,341.5 508,341.5 509,341.7 510,341.8 511,341.9 512,342.0 513,342.0 514,342.1 515,342.3 516,342.4 517,342.4 518,342.4 519,342.4 520,342.2 521,342.1 522,342.1 523,342.1 524,342.3 525,342.4 526,342.6 527,342.8 528,343.0 529,343.2 530,343.4 531,343.6 532,343.8 533,343.9 534,343.9 535,344.0 536,344.0 537,344.0 538,344.0 539,344.0 540,344.2 541,344.3 542,344.5 543,344.6 544,344.7 545,344.6 546,344.6 547,344.6 548,344.7 549,344.9 550,345.1 551,345.3 552,345.5 553,345.5 554,345.4 555,345.3 556,345.2 557,345.2 558,345.2 559,345.4 560,345.6 561,345.9 562,346.1 563,346.3 564,346.3 565,346.4 566,346.3 567,346.3 568,346.3 569,346.2 570,346.1 571,346.1 572,346.1 573,346.2 574,346.3 575,346.5 576,346.6 577,346.7 578,346.6 579,346.5 580,346.3 581,346.0 582,345.6 583,345.1 584,344.4 585,343.5 586,342.3 587,341.0 588,339.4 589,337.7 590,335.9 591,334.2 592,332.6 593,331.2 594,330.1 595,329.6 596,329.6 597,330.0 598,330.9 599,332.0 600,333.3 601,334.8 602,336.2 603,337.7 604,339.3 605,340.8 606,342.1 607,343.3 608,344.2 609,345.0 610,345.8 611,346.4 612,347.0 613,347.5 614,348.0 615,348.5 616,348.8 617,349.1 618,349.4 619,349.6 620,349.8 621,350.0 622,350.2 623,350.4 624,350.6 625,350.7 626,350.8 627,351.0 628,351.1 629,351.2 630,351.4 631,351.5 632,351.7 633,351.8 634,351.9 635,352.0 636,352.1 637,352.1 638,352.1 639,352.1 640,352.2 641,352.2 642,352.3 643,352.3 644,352.4 645,352.5 646,352.6 647,352.7 648,352.9 649,353.0 650,353.2 651,353.4 652,353.7 653,353.9 654,354.1 655,354.3 656,354.5 657,354.7 658,355.0 659,355.1 660,355.2 661,355.2 662,355.2 663,355.1 664,355.0 665,354.8 666,354.7 667,354.7 668,354.8 669,355.1 670,355.4 671,355.6 672,355.8 673,355.9 674,356.0 675,356.2 676,356.3" stroke="#9e0c10"/>
<polyline points="91,320.4 92,320.2 93,320.1 94,320.1 95,320.3 96,320.6 97,320.9 98,321.0 99,321.1 100,321.1 101,321.0 102,321.0 103,320.9 104,320.9 105,320.9 106,320.9 107,321.0 108,321.1 109,321.1 110,321.0 111,320.8 112,320.5 113,320.2 114,320.1 115,320.1 116,320.1 117,320.3 118,320.3 119,320.4 120,320.4 121,320.4 122,320.5 123,320.6 124,320.8 125,320.9 126,320.9 127,320.8 128,320.7 129,320.5 130,320.5 131,320.6 132,320.6 133,320.7 134,320.7 135,320.5 136,320.3 137,320.2 138,320.3 139,320.4 140,320.4 141,320.4 142,320.3 143,320.2 144,320.2 145,320.2 146,320.2 147,320.2 148,320.2 149,320.0 150,319.8 151,319.7 152,319.7 153,319.8 154,319.9 155,320.0 156,320.0 157,320.0 158,320.0 159,319.9 160,319.7 161,319.6 162,319.5 163,319.5 164,319.6 165,319.8 166,320.0 167,320.1 168,320.1 169,319.9 170,319.7 171,319.7 172,319.7 173,319.9 174,320.0 175,320.0 176,320.0 177,319.9 178,319.8 179,319.8 180,319.7 181,319.7 182,319.5 183,319.3 184,319.1 185,319.0 186,318.9 187,318.9 188,319.0 189,319.1 190,319.1 191,319.2 192,319.1 193,319.2 194,319.2 195,319.3 196,319.3 197,319.4 198,319.4 199,319.4 200,319.2 201,319.0 202,318.9 203,318.8 204,318.8 205,318.7 206,318.5 207,318.3 208,318.2 209,318.0 210,317.8 211,317.7 212,317.6 213,317.6 214,317.6 215,317.6 216,317.6 217,317.6 218,317.5 219,317.4 220,317.3 221,317.2 222,317.1 223,317.0 224,317.1 225,317.2 226,317.4 227,317.6 228,317.7 229,317.8 230,317.8 231,317.7 232,317.4 233,316.9 234,316.4 235,315.8 236,315.2 237,314.5 238,313.9 239,313.6 240,313.6 241,314.0 242,314.6 243,315.1 244,315.7 245,316.2 246,316.5 247,316.6 248,316.6 249,316.3 250,316.0 251,315.7 252,315.4 253,315.2 254,314.9 255,314.7 255.25,314.6 255.50,314.7 255.75,314.7 256,314.8 256.25,314.8 256.50,314.7 256.75,314.7 257,314.7 257.25,314.6 257.50,314.5 257.75,314.4 258,314.3 258.25,314.2 258.50,314.1 258.75,313.9 259,313.7 259.25,313.5 259.50,313.3 259.75,313.2 260,313.2 260.25,313.2 260.50,313.2 260.75,312.9 261,312.4 261.25,311.8 261.50,311.1 261.75,310.4 262,309.8 262.25,309.3 262.50,309.0 262.75,308.6 263,308.3 263.25,307.6 263.50,306.7 263.75,305.4 264,303.8 264.25,302.1 264.50,300.3 264.75,298.3 265,296.1 265.25,293.5 265.50,290.6 265.75,287.1 266,283.2 266.25,278.7 266.50,273.6 266.75,267.9 267,261.6 267.25,254.8 267.50,247.4 267.75,239.3 268,230.7 268.25,221.6 268.50,212.0 268.75,202.0 269,191.5 269.25,180.7 269.50,169.5 269.75,158.2 270,146.9 270.25,135.8 270.50,125.4 270.75,115.6 271,106.7 271.25,98.6 271.50,91.6 271.75,85.8 272,81.3 272.25,78.5 272.50,77.4 272.75,78.1 273,80.5 273.25,84.6 273.50,90.3 273.75,97.3 274,105.5 274.25,114.7 274.50,124.7 274.75,135.2 275,146.1 275.25,157.3 275.50,168.5 275.75,179.6 276,190.5 276.25,201.0 276.50,211.2 276.75,221.1 277,230.4 277.25,239.1 277.50,247.1 277.75,254.6 278,261.5 278.25,267.8 278.50,273.5 278.75,278.6 279,283.1 279.25,286.9 279.50,290.3 279.75,293.2 280,295.9 280.25,298.3 280.50,300.4 280.75,302.3 281,303.7 281.25,304.8 281.50,305.7 281.75,306.5 282,307.4 282.25,308.3 282.50,309.1 282.75,309.9 283,310.6 283.25,311.1 283.50,311.5 283.75,311.7 284,311.7 284.25,311.8 284.50,311.9 284.75,312.1 285,312.4 285.25,312.7 285.50,313.0 285.75,313.3 286,313.4 286.25,313.4 286.50,313.3 286.75,313.4 287,313.5 287.25,313.7 287.50,313.9 287.75,314.1 288,314.2 288.25,314.3 288.50,314.3 288.75,314.3 289,314.4 289.25,314.4 289.50,314.4 289.75,314.5 290,314.6 290.25,314.8 290.50,315.1 290.75,315.4 291,315.6 291.25,315.7 291.50,315.7 291.75,315.7 292,315.7 293,315.9 294,316.1 295,316.3 296,316.4 297,316.4 298,316.5 299,316.6 300,316.7 301,316.8 302,316.9 303,317.0 304,317.0 305,317.0 306,317.1 307,317.2 308,317.3 309,317.4 310,317.4 311,317.3 312,317.2 313,317.1 314,317.1 315,317.1 316,317.1 317,317.1 318,317.3 319,317.6 320,317.8 321,318.0 322,318.0 323,318.1 324,318.2 325,318.3 326,318.4 327,318.5 328,318.5 329,318.4 330,318.3 331,318.2 332,318.3 333,318.6 334,318.9 335,319.1 336,319.1 337,319.0 338,318.8 339,318.6 340,318.4 341,318.3 342,318.2 343,318.0 344,317.7 345,317.5 346,317.4 347,317.5 348,317.7 349,317.9 350,317.9 351,317.5 352,316.4 353,314.5 354,311.8 355,309.0 356,307.0 357,306.8 358,308.5 359,311.1 360,313.8 361,315.9 362,317.4 363,318.3 364,318.9 365,319.3 366,319.5 367,319.6 368,319.5 369,319.4 370,319.3 371,319.2 372,319.2 373,319.3 374,319.4 375,319.5 376,319.6 377,319.7 378,319.8 379,319.8 380,319.7 381,319.5 382,319.4 383,319.4 384,319.4 385,319.5 386,319.6 387,319.5 388,319.5 389,319.5 390,319.4 391,319.3 392,319.1 393,318.9 394,318.7 395,318.5 396,318.0 397,317.3 398,316.2 399,314.8 400,313.2 401,311.3 402,309.3 403,307.1 404,304.8 405,302.7 406,301.1 407,300.1 408,300.1 409,300.7 410,301.9 411,303.6 412,305.5 413,307.6 414,309.6 415,311.6 416,313.3 417,314.9 418,316.1 419,317.0 420,317.7 421,318.3 422,318.8 423,319.2 424,319.4 425,319.6 426,319.7 427,319.9 428,320.2 429,320.5 430,320.7 431,320.8 432,320.9 433,320.9 434,321.0 435,321.2 436,321.4 437,321.5 438,321.5 439,321.5 440,321.6 441,321.7 442,321.7 443,321.8 444,321.9 445,322.0 446,322.1 447,322.1 448,322.1 449,322.0 450,321.9 451,321.8 452,321.7 453,321.6 454,321.5 455,321.5 456,321.6 457,321.8 458,322.1 459,322.3 460,322.5 461,322.7 462,322.9 463,323.0 464,323.1 465,323.1 466,323.0 467,322.9 468,322.8 469,322.8 470,322.9 471,323.1 472,323.3 473,323.5 474,323.6 475,323.6 476,323.7 477,323.7 478,323.7 479,323.7 480,323.7 481,323.7 482,323.7 483,323.7 484,323.7 485,323.9 486,324.1 487,324.4 488,324.5 489,324.6 490,324.5 491,324.4 492,324.4 493,324.4 494,324.6 495,324.7 496,324.8 497,324.8 498,324.7 499,324.6 500,324.5 501,324.4 502,324.5 503,324.7 504,324.9 505,325.0 506,325.1 507,325.1 508,325.0 509,325.0 510,325.0 511,325.1 512,325.1 513,325.2 514,325.2 515,325.3 516,325.4 517,325.8 518,326.1 519,326.5 520,326.7 521,326.8 522,326.7 523,326.5 524,326.4 525,326.4 526,326.5 527,326.7 528,326.9 529,327.0 530,327.2 531,327.3 532,327.4 533,327.4 534,327.4 535,327.4 536,327.4 537,327.6 538,327.7 539,327.9 540,328.0 541,328.1 542,328.1 543,328.1 544,328.2 545,328.4 546,328.6 547,328.9 548,329.1 549,329.2 550,329.2 551,329.1 552,329.1 553,329.0 554,329.1 555,329.1 556,329.2 557,329.3 558,329.5 559,329.6 560,329.8 561,330.0 562,329.9 563,329.8 564,329.7 565,329.6 566,329.6 567,329.7 568,329.9 569,329.9 570,329.9 571,329.7 572,329.6 573,329.5 574,329.6 575,329.7 576,329.9 577,330.2 578,330.4 579,330.6 580,330.6 581,330.4 582,330.1 583,329.6 584,329.2 585,328.7 586,328.2 587,327.5 588,326.6 589,325.4 590,323.8 591,322.1 592,320.5 593,319.0 594,318.0 595,317.4 596,317.3 597,317.6 598,318.2 599,318.8 600,319.5 601,320.3 602,321.2 603,322.2 604,323.3 605,324.5 606,325.8 607,326.9 608,327.9 609,328.7 610,329.4 611,330.0 612,330.6 613,331.2 614,331.8 615,332.4 616,332.8 617,333.1 618,333.4 619,333.7 620,334.1 621,334.4 622,334.7 623,335.0 624,335.2 625,335.3 626,335.3 627,335.2 628,335.2 629,335.1 630,335.2 631,335.3 632,335.4 633,335.5 634,335.6 635,335.6 636,335.7 637,335.8 638,336.0 639,336.1 640,336.3 641,336.5 642,336.6 643,336.6 644,336.6 645,336.6 646,336.6 647,336.7 648,336.8 649,336.7 650,336.6 651,336.4 652,336.4 653,336.5 654,336.8 655,337.1 656,337.4 657,337.6 658,337.7 659,337.7 660,337.8 661,337.9 662,338.1 663,338.3 664,338.5 665,338.8 666,339.0 667,339.1 668,339.3 669,339.5 670,339.7 671,339.8 672,340.0 673,340.2 674,340.3 675,340.3 676,340.3" stroke="#3b78c2"/>
<polyline points="91,300.9 92,301.1 93,301.3 94,301.4 95,301.4 96,301.4 97,301.2 98,301.0 99,300.9 100,300.8 101,300.7 102,300.6 103,300.4 104,300.3 105,300.2 106,300.2 107,300.3 108,300.3 109,300.4 110,300.5 111,300.6 112,300.7 113,300.6 114,300.6 115,300.5 116,300.4 117,300.3 118,300.1 119,299.9 120,299.6 121,299.5 122,299.5 123,299.8 124,300.1 125,300.4 126,300.5 127,300.5 128,300.5 129,300.4 130,300.2 131,300.1 132,300.0 133,300.0 134,300.0 135,300.1 136,300.1 137,300.0 138,299.9 139,299.7 140,299.4 141,299.1 142,298.9 143,298.8 144,298.9 145,299.1 146,299.4 147,299.6 148,299.8 149,299.8 150,299.8 151,299.6 152,299.4 153,299.1 154,299.0 155,298.9 156,298.9 157,298.9 158,299.0 159,299.0 160,299.1 161,299.2 162,299.3 163,299.2 164,299.2 165,299.1 166,299.1 167,299.2 168,299.3 169,299.5 170,299.6 171,299.6 172,299.5 173,299.3 174,299.1 175,299.0 176,298.9 177,299.0 178,299.1 179,299.2 180,299.2 181,299.2 182,299.1 183,299.0 184,298.8 185,298.7 186,298.6 187,298.5 188,298.3 189,298.1 190,298.0 191,298.0 192,298.0 193,298.0 194,297.9 195,297.9 196,297.8 197,297.9 198,297.9 199,297.9 200,297.9 201,297.7 202,297.6 203,297.6 204,297.6 205,297.8 206,297.9 207,298.1 208,298.2 209,298.2 210,298.2 211,298.2 212,298.1 213,298.0 214,297.9 215,297.9 216,297.9 217,297.9 218,297.8 219,297.7 220,297.5 221,297.4 222,297.3 223,297.3 224,297.3 225,297.3 226,297.3 227,297.4 228,297.4 229,297.5 230,297.6 231,297.5 232,297.3 233,297.0 234,296.7 235,296.2 236,295.7 237,295.2 238,294.5 239,293.9 240,293.4 241,293.2 242,293.2 243,293.3 244,293.6 245,293.9 246,294.3 247,294.7 248,295.0 249,295.1 250,295.1 251,294.9 252,294.6 253,294.4 254,294.3 255,294.2 255.25,294.4 255.50,294.6 255.75,294.7 256,294.7 256.25,294.6 256.50,294.4 256.75,294.3 257,294.3 257.25,294.4 257.50,294.4 257.75,294.4 258,294.3 258.25,294.2 258.50,293.9 258.75,293.6 259,293.4 259.25,293.2 259.50,293.1 259.75,293.0 260,292.8 260.25,292.6 260.50,292.2 260.75,291.8 261,291.4 261.25,291.0 261.50,290.6 261.75,290.5 262,290.4 262.25,290.4 262.50,290.3 262.75,290.2 263,289.8 263.25,289.2 263.50,288.4 263.75,287.4 264,286.4 264.25,285.3 264.50,284.0 264.75,282.6 265,281.0 265.25,279.0 265.50,276.6 265.75,273.8 266,270.7 266.25,267.3 266.50,263.7 266.75,259.7 267,255.3 267.25,250.4 267.50,244.9 267.75,238.9 268,232.4 268.25,225.4 268.50,218.1 268.75,210.3 269,202.1 269.25,193.6 269.50,184.9 269.75,176.1 270,167.1 270.25,158.1 270.50,149.1 270.75,140.3 271,131.9 271.25,124.0 271.50,116.8 271.75,110.3 272,104.6 272.25,100.0 272.50,96.6 272.75,94.5 273,93.8 273.25,94.6 273.50,96.7 273.75,100.1 274,104.8 274.25,110.5 274.50,117.0 274.75,124.2 275,132.0 275.25,140.4 275.50,149.2 275.75,158.3 276,167.5 276.25,176.7 276.50,185.8 276.75,194.5 277,203.0 277.25,211.1 277.50,218.9 277.75,226.3 278,233.1 278.25,239.5 278.50,245.3 278.75,250.7 279,255.7 279.25,260.3 279.50,264.5 279.75,268.3 280,271.5 280.25,274.3 280.50,276.8 280.75,278.9 281,280.7 281.25,282.3 281.50,283.6 281.75,284.7 282,285.6 282.25,286.4 282.50,287.2 282.75,287.9 283,288.6 283.25,289.1 283.50,289.7 283.75,290.2 284,290.8 284.25,291.4 284.50,291.9 284.75,292.2 285,292.2 285.25,292.2 285.50,292.3 285.75,292.4 286,292.5 286.25,292.7 286.50,292.8 286.75,292.8 287,292.8 287.25,292.8 287.50,292.8 287.75,292.9 288,293.1 288.25,293.3 288.50,293.7 288.75,294.0 289,294.2 289.25,294.4 289.50,294.4 289.75,294.3 290,294.2 290.25,294.1 290.50,294.1 290.75,294.1 291,294.2 291.25,294.3 291.50,294.5 291.75,294.7 292,294.9 293,295.2 294,295.5 295,295.8 296,296.0 297,296.0 298,295.9 299,295.8 300,295.8 301,295.9 302,295.9 303,296.0 304,296.0 305,296.1 306,296.3 307,296.6 308,297.0 309,297.2 310,297.2 311,297.0 312,296.7 313,296.6 314,296.6 315,296.8 316,297.0 317,297.2 318,297.2 319,297.2 320,297.1 321,297.0 322,296.9 323,296.9 324,297.0 325,297.1 326,297.3 327,297.5 328,297.6 329,297.8 330,297.8 331,297.8 332,297.7 333,297.5 334,297.2 335,297.0 336,296.9 337,297.0 338,297.1 339,297.3 340,297.3 341,297.3 342,297.3 343,297.4 344,297.6 345,297.8 346,298.0 347,298.0 348,297.9 349,297.6 350,297.0 351,296.2 352,294.9 353,293.2 354,290.9 355,288.6 356,287.1 357,287.2 358,289.0 359,291.6 360,294.0 361,295.9 362,297.1 363,297.9 364,298.4 365,298.6 366,298.6 367,298.4 368,298.2 369,297.9 370,297.8 371,297.9 372,298.0 373,298.2 374,298.3 375,298.3 376,298.3 377,298.2 378,298.2 379,298.3 380,298.5 381,298.7 382,298.8 383,298.7 384,298.5 385,298.3 386,298.0 387,297.8 388,297.6 389,297.6 390,297.5 391,297.3 392,297.1 393,296.9 394,296.7 395,296.4 396,295.9 397,295.1 398,294.0 399,292.5 400,290.5 401,288.2 402,285.6 403,282.9 404,280.1 405,277.6 406,275.6 407,274.5 408,274.5 409,275.3 410,276.7 411,278.7 412,281.0 413,283.4 414,285.9 415,288.3 416,290.3 417,292.1 418,293.6 419,294.9 420,295.9 421,296.8 422,297.4 423,297.9 424,298.3 425,298.5 426,298.6 427,298.7 428,298.7 429,298.8 430,298.9 431,299.0 432,299.2 433,299.4 434,299.6 435,299.8 436,299.8 437,299.8 438,299.9 439,300.0 440,300.3 441,300.5 442,300.7 443,300.8 444,300.8 445,300.8 446,300.9 447,301.0 448,301.1 449,301.1 450,301.1 451,301.2 452,301.4 453,301.7 454,302.1 455,302.2 456,302.1 457,301.9 458,301.5 459,301.3 460,301.2 461,301.2 462,301.4 463,301.6 464,301.7 465,301.8 466,301.6 467,301.5 468,301.5 469,301.6 470,301.8 471,302.0 472,302.2 473,302.2 474,302.2 475,302.3 476,302.4 477,302.6 478,302.8 479,303.0 480,303.1 481,303.1 482,303.1 483,303.1 484,303.0 485,303.0 486,303.1 487,303.2 488,303.3 489,303.5 490,303.7 491,303.8 492,303.8 493,303.8 494,303.7 495,303.6 496,303.5 497,303.3 498,303.1 499,303.0 500,302.9 501,302.9 502,303.0 503,303.2 504,303.5 505,303.8 506,303.9 507,304.0 508,303.9 509,303.8 510,303.9 511,304.1 512,304.3 513,304.6 514,304.7 515,304.7 516,304.6 517,304.6 518,304.6 519,304.5 520,304.6 521,304.6 522,304.8 523,304.9 524,305.0 525,305.1 526,305.1 527,305.1 528,305.2 529,305.2 530,305.2 531,305.3 532,305.4 533,305.7 534,305.9 535,306.0 536,306.2 537,306.3 538,306.5 539,306.7 540,306.9 541,307.1 542,307.1 543,307.1 544,307.0 545,306.9 546,306.8 547,306.8 548,306.9 549,307.0 550,307.3 551,307.5 552,307.7 553,307.9 554,308.1 555,308.2 556,308.2 557,308.2 558,308.3 559,308.4 560,308.4 561,308.4 562,308.3 563,308.3 564,308.4 565,308.5 566,308.7 567,308.8 568,308.8 569,308.8 570,308.8 571,308.7 572,308.7 573,308.8 574,308.9 575,309.0 576,309.1 577,309.3 578,309.4 579,309.5 580,309.4 581,309.2 582,308.9 583,308.4 584,307.8 585,307.1 586,306.4 587,305.5 588,304.4 589,303.3 590,302.1 591,301.0 592,300.1 593,299.4 594,298.8 595,298.6 596,298.5 597,298.7 598,299.0 599,299.4 600,299.9 601,300.6 602,301.3 603,302.3 604,303.3 605,304.2 606,305.1 607,305.8 608,306.5 609,307.3 610,308.1 611,308.9 612,309.6 613,310.2 614,310.7 615,311.1 616,311.3 617,311.5 618,311.6 619,311.7 620,311.9 621,312.2 622,312.5 623,312.8 624,313.2 625,313.4 626,313.6 627,313.7 628,313.7 629,313.7 630,313.7 631,313.8 632,314.0 633,314.1 634,314.2 635,314.2 636,314.1 637,314.1 638,314.2 639,314.3 640,314.5 641,314.7 642,315.0 643,315.4 644,315.7 645,316.0 646,316.3 647,316.5 648,316.6 649,316.8 650,316.8 651,316.7 652,316.4 653,316.0 654,315.7 655,315.6 656,315.7 657,316.0 658,316.5 659,316.9 660,317.3 661,317.6 662,317.9 663,318.0 664,318.0 665,318.0 666,318.0 667,317.9 668,317.9 669,318.0 670,318.2 671,318.4 672,318.6 673,318.8 674,318.9 675,318.9 676,318.9" stroke="#b87b28"/>
<polyline points="91,282.8 92,282.9 93,283.0 94,283.1 95,283.0 96,283.0 97,282.9 98,282.8 99,282.8 100,282.8 101,282.8 102,282.8 103,282.8 104,282.7 105,282.5 106,282.3 107,282.0 108,281.7 109,281.6 110,281.7 111,282.0 112,282.3 113,282.5 114,282.6 115,282.7 116,282.7 117,282.7 118,282.7 119,282.6 120,282.4 121,282.3 122,282.1 123,282.1 124,282.1 125,282.3 126,282.4 127,282.5 128,282.5 129,282.5 130,282.4 131,282.4 132,282.2 133,282.1 134,281.9 135,281.8 136,281.7 137,281.7 138,281.7 139,281.8 140,281.9 141,281.9 142,281.9 143,281.9 144,281.9 145,281.8 146,281.8 147,281.8 148,281.7 149,281.6 150,281.5 151,281.4 152,281.5 153,281.5 154,281.4 155,281.3 156,281.1 157,281.0 158,281.0 159,281.0 160,281.2 161,281.4 162,281.5 163,281.4 164,281.2 165,281.0 166,280.8 167,280.7 168,280.8 169,280.8 170,280.9 171,281.0 172,281.1 173,281.2 174,281.3 175,281.2 176,281.1 177,280.9 178,280.9 179,281.0 180,281.1 181,281.2 182,281.2 183,281.1 184,281.0 185,280.9 186,280.9 187,281.0 188,281.1 189,281.1 190,281.1 191,281.0 192,280.9 193,280.8 194,280.7 195,280.6 196,280.4 197,280.3 198,280.2 199,280.1 200,280.0 201,280.0 202,280.1 203,280.2 204,280.3 205,280.3 206,280.3 207,280.2 208,280.2 209,280.2 210,280.2 211,280.3 212,280.3 213,280.2 214,280.0 215,279.9 216,279.7 217,279.7 218,279.7 219,279.7 220,279.6 221,279.5 222,279.3 223,279.1 224,278.9 225,278.8 226,278.7 227,278.7 228,278.8 229,278.8 230,278.8 231,278.8 232,278.7 233,278.5 234,278.4 235,278.3 236,278.0 237,277.6 238,277.0 239,276.3 240,275.6 241,275.1 242,275.0 243,275.3 244,275.8 245,276.5 246,277.1 247,277.6 248,277.9 249,278.0 250,278.0 251,278.0 252,278.0 253,277.9 254,277.8 255,277.7 255.25,277.6 255.50,277.6 255.75,277.6 256,277.6 256.25,277.5 256.50,277.3 256.75,277.0 257,276.7 257.25,276.5 257.50,276.4 257.75,276.3 258,276.3 258.25,276.3 258.50,276.1 258.75,276.0 259,275.8 259.25,275.6 259.50,275.5 259.75,275.3 260,275.2 260.25,275.0 260.50,274.9 260.75,274.6 261,274.4 261.25,274.1 261.50,274.0 261.75,273.8 262,273.7 262.25,273.6 262.50,273.3 262.75,272.8 263,272.2 263.25,271.6 263.50,270.9 263.75,270.1 264,269.1 264.25,267.9 264.50,266.4 264.75,264.8 265,262.9 265.25,260.9 265.50,258.7 265.75,256.4 266,253.8 266.25,250.8 266.50,247.4 266.75,243.6 267,239.5 267.25,235.1 267.50,230.3 267.75,225.1 268,219.7 268.25,214.0 268.50,207.8 268.75,201.3 269,194.5 269.25,187.4 269.50,180.2 269.75,172.9 270,165.7 270.25,158.5 270.50,151.4 270.75,144.3 271,137.5 271.25,131.0 271.50,125.1 271.75,119.9 272,115.4 272.25,111.9 272.50,109.4 272.75,107.8 273,107.3 273.25,107.7 273.50,109.2 273.75,111.7 274,115.1 274.25,119.4 274.50,124.4 274.75,130.0 275,136.1 275.25,142.8 275.50,149.9 275.75,157.3 276,164.9 276.25,172.6 276.50,180.3 276.75,187.8 277,195.1 277.25,202.0 277.50,208.5 277.75,214.6 278,220.3 278.25,225.6 278.50,230.6 278.75,235.2 279,239.3 279.25,243.1 279.50,246.7 279.75,249.9 280,253.0 280.25,255.8 280.50,258.3 280.75,260.6 281,262.6 281.25,264.3 281.50,265.8 281.75,267.2 282,268.5 282.25,269.6 282.50,270.7 282.75,271.6 283,272.4 283.25,273.1 283.50,273.6 283.75,273.9 284,274.2 284.25,274.3 284.50,274.4 284.75,274.5 285,274.6 285.25,274.6 285.50,274.6 285.75,274.7 286,274.8 286.25,275.1 286.50,275.6 286.75,276.2 287,276.6 287.25,276.9 287.50,277.1 287.75,277.2 288,277.2 288.25,277.1 288.50,276.9 288.75,276.7 289,276.5 289.25,276.3 289.50,276.4 289.75,276.5 290,276.8 290.25,277.0 290.50,277.3 290.75,277.4 291,277.5 291.25,277.5 291.50,277.4 291.75,277.3 292,277.2 293,277.3 294,277.3 295,277.4 296,277.6 297,278.0 298,278.3 299,278.6 300,278.7 301,278.8 302,278.7 303,278.7 304,278.7 305,278.8 306,279.0 307,279.2 308,279.2 309,279.2 310,279.1 311,279.1 312,279.1 313,279.2 314,279.3 315,279.4 316,279.4 317,279.5 318,279.6 319,279.8 320,280.0 321,280.1 322,280.3 323,280.3 324,280.3 325,280.2 326,280.0 327,279.7 328,279.6 329,279.5 330,279.6 331,279.7 332,279.7 333,279.6 334,279.5 335,279.3 336,279.2 337,279.3 338,279.4 339,279.6 340,279.7 341,279.8 342,279.8 343,279.7 344,279.7 345,279.7 346,279.8 347,279.9 348,280.0 349,280.0 350,279.7 351,279.0 352,277.7 353,275.8 354,273.2 355,270.3 356,268.0 357,267.2 358,268.4 359,271.0 360,273.9 361,276.5 362,278.3 363,279.4 364,280.1 365,280.5 366,280.7 367,280.9 368,281.0 369,281.0 370,280.9 371,280.9 372,280.8 373,280.8 374,280.9 375,281.0 376,281.2 377,281.3 378,281.4 379,281.5 380,281.4 381,281.4 382,281.3 383,281.3 384,281.3 385,281.3 386,281.3 387,281.3 388,281.3 389,281.1 390,280.9 391,280.7 392,280.4 393,280.2 394,280.0 395,279.8 396,279.4 397,278.8 398,277.7 399,276.1 400,273.9 401,271.2 402,268.1 403,264.7 404,261.1 405,257.7 406,254.7 407,252.7 408,251.9 409,252.4 410,253.8 411,255.8 412,258.4 413,261.0 414,263.7 415,266.2 416,268.7 417,271.0 418,273.0 419,274.8 420,276.2 421,277.5 422,278.5 423,279.4 424,280.1 425,280.7 426,281.1 427,281.3 428,281.4 429,281.4 430,281.5 431,281.5 432,281.6 433,281.6 434,281.5 435,281.5 436,281.6 437,281.8 438,282.1 439,282.4 440,282.6 441,282.9 442,283.1 443,283.2 444,283.4 445,283.6 446,283.7 447,283.7 448,283.6 449,283.5 450,283.5 451,283.5 452,283.5 453,283.7 454,283.9 455,284.0 456,284.1 457,284.0 458,283.9 459,283.9 460,283.9 461,284.0 462,284.1 463,284.2 464,284.3 465,284.3 466,284.3 467,284.3 468,284.3 469,284.3 470,284.3 471,284.4 472,284.5 473,284.8 474,285.1 475,285.3 476,285.4 477,285.3 478,285.2 479,285.2 480,285.3 481,285.5 482,285.8 483,285.9 484,286.0 485,285.9 486,285.7 487,285.4 488,285.2 489,285.2 490,285.5 491,285.8 492,286.2 493,286.4 494,286.4 495,286.4 496,286.4 497,286.5 498,286.5 499,286.6 500,286.6 501,286.6 502,286.6 503,286.7 504,286.9 505,287.2 506,287.5 507,287.7 508,287.8 509,287.7 510,287.6 511,287.3 512,287.2 513,287.2 514,287.3 515,287.6 516,287.9 517,288.1 518,288.2 519,288.2 520,288.2 521,288.2 522,288.2 523,288.3 524,288.4 525,288.5 526,288.6 527,288.6 528,288.6 529,288.6 530,288.5 531,288.4 532,288.4 533,288.4 534,288.5 535,288.6 536,288.7 537,288.9 538,289.1 539,289.2 540,289.3 541,289.3 542,289.3 543,289.4 544,289.5 545,289.7 546,289.9 547,290.0 548,290.0 549,290.0 550,289.9 551,289.8 552,289.9 553,290.0 554,290.2 555,290.4 556,290.5 557,290.7 558,290.7 559,290.8 560,290.9 561,291.0 562,291.2 563,291.4 564,291.4 565,291.4 566,291.3 567,291.2 568,291.1 569,291.1 570,291.2 571,291.3 572,291.4 573,291.5 574,291.6 575,291.8 576,291.9 577,292.1 578,292.3 579,292.3 580,292.3 581,292.3 582,292.2 583,292.0 584,291.7 585,291.3 586,290.6 587,289.8 588,288.9 589,287.8 590,286.7 591,285.6 592,284.8 593,284.1 594,283.7 595,283.6 596,283.6 597,283.9 598,284.2 599,284.6 600,285.2 601,285.9 602,286.7 603,287.6 604,288.4 605,289.1 606,289.7 607,290.2 608,290.9 609,291.6 610,292.4 611,293.1 612,293.7 613,294.0 614,294.3 615,294.5 616,294.7 617,295.0 618,295.2 619,295.5 620,295.6 621,295.8 622,296.0 623,296.2 624,296.5 625,296.7 626,297.0 627,297.2 628,297.4 629,297.6 630,297.7 631,297.7 632,297.5 633,297.4 634,297.4 635,297.5 636,297.7 637,297.9 638,298.0 639,298.1 640,298.3 641,298.4 642,298.4 643,298.5 644,298.5 645,298.6 646,298.8 647,299.0 648,299.2 649,299.2 650,299.2 651,299.2 652,299.2 653,299.3 654,299.4 655,299.5 656,299.6 657,299.7 658,299.8 659,299.9 660,300.0 661,300.2 662,300.4 663,300.7 664,300.9 665,301.1 666,301.2 667,301.3 668,301.2 669,301.2 670,301.2 671,301.2 672,301.3 673,301.4 674,301.5 675,301.6 676,301.8" stroke="#cc2a85"/>
<polyline points="91,265.8 92,265.7 93,265.7 94,265.7 95,265.8 96,265.8 97,265.9 98,266.0 99,266.2 100,266.3 101,266.3 102,266.3 103,266.3 104,266.3 105,266.3 106,266.2 107,266.2 108,266.3 109,266.4 110,266.4 111,266.3 112,266.1 113,265.9 114,265.7 115,265.5 116,265.4 117,265.4 118,265.4 119,265.5 120,265.5 121,265.4 122,265.4 123,265.2 124,265.2 125,265.1 126,265.1 127,265.2 128,265.3 129,265.5 130,265.6 131,265.6 132,265.6 133,265.5 134,265.5 135,265.5 136,265.6 137,265.7 138,265.8 139,266.0 140,266.2 141,266.4 142,266.5 143,266.5 144,266.5 145,266.4 146,266.3 147,266.2 148,266.2 149,266.2 150,266.1 151,265.9 152,265.7 153,265.4 154,265.2 155,264.9 156,264.7 157,264.7 158,264.7 159,264.9 160,265.2 161,265.5 162,265.6 163,265.6 164,265.3 165,265.0 166,264.7 167,264.5 168,264.4 169,264.4 170,264.5 171,264.6 172,264.7 173,264.7 174,264.5 175,264.4 176,264.4 177,264.4 178,264.6 179,264.7 180,264.8 181,264.8 182,264.8 183,264.7 184,264.6 185,264.6 186,264.5 187,264.5 188,264.5 189,264.5 190,264.4 191,264.4 192,264.3 193,264.2 194,264.0 195,263.8 196,263.7 197,263.5 198,263.4 199,263.4 200,263.5 201,263.5 202,263.4 203,263.2 204,262.9 205,262.7 206,262.5 207,262.4 208,262.5 209,262.6 210,262.9 211,263.2 212,263.4 213,263.6 214,263.7 215,263.8 216,263.8 217,263.8 218,263.8 219,263.8 220,263.7 221,263.6 222,263.4 223,263.3 224,263.1 225,263.0 226,262.9 227,262.8 228,262.7 229,262.7 230,262.7 231,262.6 232,262.5 233,262.3 234,262.0 235,261.7 236,261.3 237,260.7 238,259.9 239,259.3 240,258.9 241,259.1 242,259.6 243,260.4 244,261.2 245,261.8 246,262.1 247,262.2 248,262.2 249,262.1 250,262.0 251,262.0 252,261.9 253,261.7 254,261.5 255,261.2 255.25,261.1 255.50,260.9 255.75,260.7 256,260.6 256.25,260.7 256.50,260.8 256.75,261.1 257,261.3 257.25,261.5 257.50,261.6 257.75,261.5 258,261.3 258.25,261.1 258.50,260.8 258.75,260.5 259,260.2 259.25,259.9 259.50,259.6 259.75,259.4 260,259.3 260.25,259.2 260.50,259.2 260.75,259.2 261,259.1 261.25,258.9 261.50,258.6 261.75,258.1 262,257.6 262.25,257.1 262.50,256.7 262.75,256.5 263,256.4 263.25,256.3 263.50,256.2 263.75,256.0 264,255.6 264.25,255.1 264.50,254.4 264.75,253.4 265,252.1 265.25,250.5 265.50,248.7 265.75,246.7 266,244.6 266.25,242.5 266.50,240.2 266.75,237.7 267,234.9 267.25,231.8 267.50,228.3 267.75,224.4 268,220.3 268.25,215.9 268.50,211.3 268.75,206.6 269,201.8 269.25,196.8 269.50,191.7 269.75,186.1 270,180.2 270.25,174.0 270.50,167.7 270.75,161.5 271,155.5 271.25,150.0 271.50,144.9 271.75,140.1 272,135.7 272.25,131.6 272.50,128.1 272.75,125.2 273,123.3 273.25,122.2 273.50,121.9 273.75,122.3 274,123.5 274.25,125.3 274.50,127.9 274.75,131.2 275,135.2 275.25,139.8 275.50,144.8 275.75,150.0 276,155.5 276.25,161.2 276.50,167.1 276.75,173.0 277,178.9 277.25,184.7 277.50,190.4 277.75,196.0 278,201.5 278.25,206.8 278.50,212.0 278.75,216.8 279,221.3 279.25,225.4 279.50,229.2 279.75,232.5 280,235.6 280.25,238.4 280.50,240.9 280.75,243.1 281,245.0 281.25,246.7 281.50,248.2 281.75,249.5 282,250.6 282.25,251.6 282.50,252.6 282.75,253.5 283,254.2 283.25,254.9 283.50,255.4 283.75,255.8 284,256.1 284.25,256.4 284.50,256.8 284.75,257.3 285,257.8 285.25,258.3 285.50,258.8 285.75,259.2 286,259.3 286.25,259.3 286.50,259.3 286.75,259.2 287,259.2 287.25,259.4 287.50,259.6 287.75,259.8 288,260.0 288.25,260.2 288.50,260.3 288.75,260.4 289,260.6 289.25,260.7 289.50,260.7 289.75,260.7 290,260.7 290.25,260.8 290.50,260.9 290.75,261.0 291,260.9 291.25,260.7 291.50,260.6 291.75,260.6 292,260.7 293,261.0 294,261.4 295,261.8 296,262.0 297,262.0 298,262.0 299,262.0 300,262.0 301,262.1 302,262.2 303,262.4 304,262.5 305,262.4 306,262.4 307,262.3 308,262.4 309,262.5 310,262.6 311,262.8 312,262.9 313,263.0 314,263.0 315,262.9 316,262.8 317,262.6 318,262.5 319,262.5 320,262.7 321,262.9 322,263.1 323,263.3 324,263.4 325,263.5 326,263.5 327,263.4 328,263.3 329,263.2 330,263.2 331,263.3 332,263.4 333,263.5 334,263.6 335,263.7 336,263.7 337,263.7 338,263.7 339,263.8 340,263.9 341,263.9 342,263.9 343,263.8 344,263.6 345,263.6 346,263.6 347,263.7 348,263.8 349,263.7 350,263.4 351,262.7 352,261.3 353,259.0 354,255.9 355,252.4 356,249.5 357,248.5 358,250.0 359,253.1 360,256.6 361,259.4 362,261.3 363,262.2 364,262.6 365,262.7 366,262.8 367,263.0 368,263.2 369,263.4 370,263.6 371,263.8 372,263.9 373,264.1 374,264.2 375,264.3 376,264.3 377,264.2 378,263.9 379,263.6 380,263.5 381,263.6 382,263.7 383,263.9 384,264.0 385,264.1 386,264.0 387,263.9 388,263.8 389,263.6 390,263.4 391,263.2 392,263.0 393,262.8 394,262.5 395,262.2 396,261.6 397,260.8 398,259.4 399,257.4 400,254.8 401,251.6 402,247.8 403,243.6 404,239.2 405,235.0 406,231.3 407,228.9 408,228.0 409,228.5 410,230.2 411,232.7 412,235.9 413,239.4 414,243.0 415,246.4 416,249.7 417,252.6 418,255.3 419,257.6 420,259.5 421,261.0 422,262.3 423,263.2 424,263.9 425,264.5 426,264.9 427,265.2 428,265.3 429,265.3 430,265.3 431,265.2 432,265.1 433,265.1 434,265.2 435,265.4 436,265.7 437,265.9 438,266.1 439,266.2 440,266.3 441,266.4 442,266.5 443,266.6 444,266.8 445,267.1 446,267.2 447,267.2 448,267.1 449,267.0 450,267.0 451,267.1 452,267.2 453,267.4 454,267.6 455,267.7 456,267.7 457,267.5 458,267.4 459,267.2 460,267.1 461,267.1 462,267.2 463,267.2 464,267.3 465,267.5 466,267.8 467,268.0 468,268.3 469,268.4 470,268.5 471,268.5 472,268.4 473,268.3 474,268.3 475,268.3 476,268.3 477,268.4 478,268.5 479,268.6 480,268.6 481,268.5 482,268.4 483,268.3 484,268.4 485,268.5 486,268.8 487,269.0 488,269.1 489,269.1 490,269.1 491,269.2 492,269.3 493,269.5 494,269.7 495,269.8 496,270.0 497,270.0 498,270.1 499,270.2 500,270.2 501,270.1 502,269.9 503,269.7 504,269.7 505,269.8 506,270.0 507,270.2 508,270.5 509,270.6 510,270.8 511,270.9 512,271.0 513,271.1 514,271.1 515,271.2 516,271.1 517,271.1 518,271.0 519,270.9 520,270.9 521,270.9 522,270.9 523,271.1 524,271.4 525,271.6 526,271.8 527,271.9 528,272.0 529,271.9 530,271.8 531,271.8 532,271.9 533,272.1 534,272.4 535,272.6 536,272.8 537,272.9 538,273.0 539,273.1 540,273.1 541,273.1 542,272.9 543,272.7 544,272.6 545,272.5 546,272.5 547,272.6 548,272.8 549,273.1 550,273.5 551,273.8 552,274.2 553,274.4 554,274.6 555,274.7 556,274.7 557,274.6 558,274.5 559,274.3 560,274.2 561,274.1 562,274.1 563,274.3 564,274.5 565,274.8 566,275.0 567,275.1 568,275.2 569,275.2 570,275.2 571,275.2 572,275.2 573,275.2 574,275.2 575,275.1 576,275.1 577,275.1 578,275.0 579,275.0 580,274.9 581,274.8 582,274.8 583,274.7 584,274.6 585,274.2 586,273.7 587,273.1 588,272.3 589,271.6 590,271.0 591,270.4 592,269.9 593,269.4 594,268.9 595,268.5 596,268.1 597,267.9 598,267.9 599,268.3 600,268.8 601,269.5 602,270.2 603,270.9 604,271.4 605,271.9 606,272.3 607,272.8 608,273.4 609,274.0 610,274.6 611,275.1 612,275.6 613,276.1 614,276.4 615,276.7 616,277.0 617,277.3 618,277.6 619,277.9 620,278.2 621,278.5 622,278.7 623,278.9 624,279.1 625,279.3 626,279.5 627,279.5 628,279.6 629,279.6 630,279.7 631,279.9 632,280.2 633,280.4 634,280.4 635,280.3 636,280.1 637,279.9 638,279.8 639,279.8 640,279.9 641,280.1 642,280.3 643,280.7 644,281.0 645,281.4 646,281.7 647,281.9 648,282.0 649,282.1 650,282.0 651,282.0 652,281.9 653,281.9 654,282.0 655,282.1 656,282.3 657,282.5 658,282.7 659,283.1 660,283.4 661,283.7 662,283.9 663,284.0 664,284.0 665,284.0 666,283.9 667,283.8 668,283.6 669,283.5 670,283.5 671,283.5 672,283.6 673,283.9 674,284.2 675,284.5 676,284.9" stroke="#3c3ca8"/>
<polyline points="91,247.7 92,247.6 93,247.6 94,247.5 95,247.4 96,247.4 97,247.3 98,247.1 99,247.0 100,246.8 101,246.6 102,246.6 103,246.6 104,246.7 105,246.8 106,246.9 107,246.9 108,246.9 109,246.8 110,246.7 111,246.6 112,246.5 113,246.4 114,246.4 115,246.4 116,246.5 117,246.6 118,246.7 119,246.7 120,246.8 121,246.8 122,246.8 123,246.8 124,246.7 125,246.6 126,246.6 127,246.6 128,246.7 129,246.7 130,246.8 131,246.9 132,246.9 133,246.9 134,246.8 135,246.7 136,246.7 137,246.8 138,246.8 139,246.8 140,246.8 141,246.7 142,246.6 143,246.4 144,246.3 145,246.3 146,246.3 147,246.3 148,246.2 149,246.1 150,246.0 151,245.9 152,245.8 153,245.8 154,245.9 155,246.2 156,246.5 157,246.8 158,247.0 159,246.9 160,246.8 161,246.6 162,246.4 163,246.2 164,246.1 165,246.0 166,245.9 167,245.9 168,245.9 169,245.9 170,245.9 171,245.8 172,245.6 173,245.4 174,245.3 175,245.4 176,245.6 177,245.8 178,245.9 179,245.8 180,245.5 181,245.3 182,245.2 183,245.1 184,245.1 185,245.1 186,245.0 187,244.9 188,244.9 189,244.9 190,244.8 191,244.7 192,244.6 193,244.5 194,244.4 195,244.3 196,244.3 197,244.4 198,244.5 199,244.6 200,244.7 201,244.7 202,244.6 203,244.4 204,244.3 205,244.2 206,244.4 207,244.5 208,244.6 209,244.6 210,244.5 211,244.3 212,244.2 213,244.1 214,244.1 215,244.1 216,244.3 217,244.4 218,244.5 219,244.6 220,244.5 221,244.5 222,244.4 223,244.3 224,244.2 225,244.0 226,243.9 227,243.8 228,243.7 229,243.8 230,243.8 231,243.7 232,243.5 233,243.1 234,242.8 235,242.4 236,242.0 237,241.4 238,240.8 239,240.0 240,239.1 241,238.5 242,238.3 243,238.6 244,239.4 245,240.3 246,241.1 247,241.9 248,242.6 249,243.1 250,243.4 251,243.5 252,243.4 253,243.1 254,242.8 255,242.6 255.25,242.5 255.50,242.4 255.75,242.3 256,242.2 256.25,242.2 256.50,242.2 256.75,242.3 257,242.4 257.25,242.4 257.50,242.3 257.75,242.1 258,242.0 258.25,241.8 258.50,241.7 258.75,241.6 259,241.5 259.25,241.4 259.50,241.3 259.75,241.3 260,241.3 260.25,241.3 260.50,241.2 260.75,241.1 261,240.9 261.25,240.8 261.50,240.7 261.75,240.5 262,240.4 262.25,240.3 262.50,240.2 262.75,240.0 263,239.8 263.25,239.5 263.50,239.3 263.75,239.1 264,238.8 264.25,238.5 264.50,238.1 264.75,237.5 265,236.8 265.25,236.0 265.50,235.0 265.75,233.9 266,232.6 266.25,231.1 266.50,229.4 266.75,227.4 267,225.3 267.25,222.9 267.50,220.3 267.75,217.4 268,214.1 268.25,210.7 268.50,207.0 268.75,203.1 269,199.1 269.25,194.9 269.50,190.5 269.75,185.9 270,181.1 270.25,176.2 270.50,171.2 270.75,166.2 271,161.3 271.25,156.7 271.50,152.4 271.75,148.6 272,145.2 272.25,142.2 272.50,139.8 272.75,138.0 273,137.0 273.25,136.8 273.50,137.5 273.75,138.8 274,140.7 274.25,143.3 274.50,146.3 274.75,150.0 275,154.1 275.25,158.6 275.50,163.3 275.75,168.1 276,172.8 276.25,177.5 276.50,182.1 276.75,186.8 277,191.4 277.25,196.0 277.50,200.5 277.75,204.7 278,208.5 278.25,212.0 278.50,215.2 278.75,218.2 279,221.0 279.25,223.6 279.50,226.0 279.75,228.0 280,229.8 280.25,231.4 280.50,232.6 280.75,233.7 281,234.7 281.25,235.5 281.50,236.4 281.75,237.1 282,237.7 282.25,238.2 282.50,238.5 282.75,238.9 283,239.2 283.25,239.5 283.50,239.8 283.75,240.0 284,240.2 284.25,240.3 284.50,240.3 284.75,240.3 285,240.3 285.25,240.4 285.50,240.6 285.75,240.9 286,241.2 286.25,241.4 286.50,241.6 286.75,241.6 287,241.6 287.25,241.5 287.50,241.5 287.75,241.6 288,241.7 288.25,241.8 288.50,241.9 288.75,242.0 289,242.1 289.25,242.1 289.50,242.0 289.75,241.9 290,241.8 290.25,241.7 290.50,241.8 290.75,242.0 291,242.4 291.25,242.8 291.50,243.1 291.75,243.2 292,243.2 293,243.1 294,243.0 295,243.0 296,242.9 297,243.0 298,243.2 299,243.5 300,243.8 301,244.1 302,244.1 303,244.0 304,243.7 305,243.4 306,243.2 307,243.2 308,243.4 309,243.6 310,243.8 311,243.9 312,243.9 313,243.9 314,243.9 315,243.9 316,243.9 317,243.9 318,244.0 319,244.1 320,244.1 321,244.2 322,244.1 323,243.9 324,243.8 325,243.6 326,243.7 327,243.8 328,244.1 329,244.3 330,244.4 331,244.3 332,244.1 333,243.9 334,243.9 335,243.9 336,243.9 337,243.9 338,243.8 339,243.7 340,243.6 341,243.5 342,243.6 343,243.6 344,243.6 345,243.7 346,243.8 347,243.9 348,244.1 349,244.2 350,244.2 351,244.0 352,243.2 353,241.8 354,239.5 355,236.5 356,233.4 357,231.4 358,231.4 359,233.5 360,236.5 361,239.4 362,241.6 363,243.1 364,243.9 365,244.4 366,244.5 367,244.7 368,244.8 369,244.9 370,245.0 371,245.1 372,245.0 373,244.8 374,244.6 375,244.5 376,244.5 377,244.5 378,244.7 379,244.8 380,244.9 381,244.8 382,244.7 383,244.6 384,244.6 385,244.6 386,244.6 387,244.7 388,244.8 389,244.9 390,244.9 391,244.8 392,244.6 393,244.3 394,243.8 395,243.0 396,242.1 397,240.9 398,239.5 399,237.9 400,235.7 401,232.8 402,229.0 403,224.5 404,219.4 405,214.2 406,209.4 407,205.7 408,203.5 409,203.2 410,204.4 411,206.6 412,209.9 413,213.7 414,217.8 415,221.8 416,225.7 417,229.4 418,232.6 419,235.3 420,237.5 421,239.2 422,240.6 423,241.7 424,242.6 425,243.3 426,243.9 427,244.4 428,244.8 429,245.1 430,245.3 431,245.6 432,245.9 433,246.1 434,246.3 435,246.4 436,246.4 437,246.5 438,246.5 439,246.4 440,246.4 441,246.4 442,246.5 443,246.5 444,246.6 445,246.8 446,247.1 447,247.3 448,247.5 449,247.6 450,247.7 451,247.8 452,247.8 453,247.9 454,247.9 455,247.9 456,248.0 457,248.1 458,248.2 459,248.4 460,248.5 461,248.6 462,248.7 463,248.7 464,248.7 465,248.7 466,248.7 467,248.8 468,248.9 469,249.0 470,249.1 471,249.1 472,249.1 473,249.0 474,249.0 475,249.1 476,249.3 477,249.5 478,249.6 479,249.7 480,249.7 481,249.7 482,249.6 483,249.6 484,249.7 485,249.7 486,249.8 487,249.8 488,249.9 489,249.9 490,249.8 491,249.8 492,249.7 493,249.6 494,249.6 495,249.6 496,249.7 497,249.9 498,250.1 499,250.4 500,250.8 501,251.1 502,251.3 503,251.4 504,251.4 505,251.3 506,251.3 507,251.3 508,251.4 509,251.5 510,251.6 511,251.6 512,251.6 513,251.6 514,251.7 515,251.9 516,251.9 517,251.9 518,251.9 519,251.9 520,251.9 521,252.0 522,252.0 523,252.1 524,252.3 525,252.5 526,252.6 527,252.7 528,252.7 529,252.7 530,252.7 531,252.7 532,252.8 533,253.0 534,253.2 535,253.3 536,253.5 537,253.5 538,253.6 539,253.6 540,253.7 541,253.7 542,253.7 543,253.7 544,253.8 545,254.0 546,254.3 547,254.5 548,254.6 549,254.7 550,254.7 551,254.7 552,254.8 553,254.8 554,254.8 555,254.8 556,254.7 557,254.7 558,254.7 559,254.7 560,254.8 561,255.0 562,255.1 563,255.3 564,255.5 565,255.7 566,255.9 567,255.9 568,255.9 569,255.8 570,255.8 571,255.8 572,255.9 573,256.0 574,256.0 575,255.9 576,255.8 577,255.7 578,255.7 579,255.7 580,255.8 581,255.8 582,255.8 583,255.6 584,255.4 585,255.0 586,254.6 587,254.1 588,253.7 589,253.1 590,252.6 591,252.1 592,251.6 593,251.3 594,251.1 595,251.1 596,251.3 597,251.5 598,251.7 599,251.9 600,252.1 601,252.3 602,252.5 603,252.8 604,253.1 605,253.5 606,254.0 607,254.6 608,255.1 609,255.7 610,256.3 611,256.8 612,257.3 613,257.7 614,258.1 615,258.3 616,258.5 617,258.6 618,258.8 619,259.1 620,259.4 621,259.7 622,260.1 623,260.4 624,260.7 625,260.9 626,261.2 627,261.5 628,261.6 629,261.6 630,261.5 631,261.3 632,261.2 633,261.2 634,261.2 635,261.2 636,261.3 637,261.4 638,261.5 639,261.6 640,261.8 641,261.9 642,262.0 643,262.0 644,262.1 645,262.1 646,262.2 647,262.4 648,262.6 649,262.8 650,263.0 651,263.1 652,263.2 653,263.2 654,263.3 655,263.2 656,263.3 657,263.4 658,263.6 659,263.7 660,263.8 661,263.9 662,264.0 663,264.2 664,264.4 665,264.6 666,264.8 667,265.0 668,265.4 669,265.7 670,265.8 671,265.8 672,265.7 673,265.5 674,265.3 675,265.3 676,265.5" stroke="#808080"/>
<polyline points="91,221.4 92,221.4 93,221.4 94,221.5 95,221.7 96,221.8 97,221.9 98,222.0 99,221.9 100,221.9 101,221.8 102,221.8 103,221.9 104,221.9 105,222.0 106,222.0 107,221.8 108,221.6 109,221.4 110,221.3 111,221.4 112,221.5 113,221.6 114,221.7 115,221.7 116,221.7 117,221.6 118,221.4 119,221.2 120,221.0 121,220.7 122,220.5 123,220.5 124,220.5 125,220.6 126,220.7 127,220.8 128,220.7 129,220.6 130,220.5 131,220.5 132,220.6 133,220.7 134,220.9 135,221.1 136,221.3 137,221.5 138,221.7 139,221.8 140,221.8 141,221.7 142,221.6 143,221.4 144,221.2 145,221.0 146,221.0 147,221.1 148,221.3 149,221.4 150,221.5 151,221.4 152,221.2 153,221.0 154,220.8 155,220.8 156,220.8 157,221.0 158,221.1 159,221.3 160,221.5 161,221.4 162,221.2 163,220.8 164,220.4 165,220.1 166,219.9 167,219.9 168,219.9 169,220.0 170,220.1 171,220.2 172,220.4 173,220.5 174,220.5 175,220.6 176,220.5 177,220.4 178,220.3 179,220.2 180,220.2 181,220.2 182,220.2 183,220.2 184,220.1 185,220.0 186,219.9 187,219.7 188,219.5 189,219.4 190,219.3 191,219.3 192,219.3 193,219.2 194,219.1 195,219.0 196,218.9 197,218.7 198,218.6 199,218.5 200,218.5 201,218.7 202,219.0 203,219.4 204,219.8 205,220.0 206,220.1 207,220.1 208,220.0 209,219.8 210,219.6 211,219.5 212,219.3 213,219.1 214,218.9 215,218.8 216,218.7 217,218.7 218,218.7 219,218.8 220,218.9 221,218.9 222,218.9 223,218.8 224,218.7 225,218.7 226,218.7 227,218.7 228,218.7 229,218.6 230,218.6 231,218.6 232,218.6 233,218.4 234,218.0 235,217.5 236,216.9 237,216.3 238,215.5 239,214.6 240,213.7 241,213.0 242,212.8 243,213.2 244,214.0 245,214.9 246,215.8 247,216.6 248,217.1 249,217.4 250,217.5 251,217.5 252,217.5 253,217.5 254,217.5 255,217.5 255.25,217.5 255.50,217.5 255.75,217.5 256,217.6 256.25,217.7 256.50,217.8 256.75,217.7 257,217.6 257.25,217.4 257.50,217.2 257.75,217.0 258,216.8 258.25,216.6 258.50,216.5 258.75,216.5 259,216.5 259.25,216.6 259.50,216.8 259.75,216.9 260,217.0 260.25,216.9 260.50,216.7 260.75,216.4 261,216.2 261.25,216.1 261.50,216.1 261.75,216.1 262,216.2 262.25,216.4 262.50,216.4 262.75,216.4 263,216.1 263.25,215.8 263.50,215.5 263.75,215.1 264,214.8 264.25,214.5 264.50,214.3 264.75,214.0 265,213.6 265.25,213.2 265.50,212.6 265.75,212.0 266,211.2 266.25,210.3 266.50,209.3 266.75,208.2 267,207.0 267.25,205.7 267.50,204.2 267.75,202.4 268,200.4 268.25,198.3 268.50,196.0 268.75,193.7 269,191.2 269.25,188.5 269.50,185.5 269.75,182.3 270,178.8 270.25,175.4 270.50,171.9 270.75,168.5 271,165.1 271.25,161.9 271.50,158.9 271.75,156.1 272,153.6 272.25,151.5 272.50,149.8 272.75,148.5 273,147.8 273.25,147.5 273.50,147.7 273.75,148.4 274,149.5 274.25,151.2 274.50,153.3 274.75,155.8 275,158.6 275.25,161.6 275.50,164.7 275.75,167.9 276,171.1 276.25,174.4 276.50,177.6 276.75,180.8 277,184.0 277.25,187.1 277.50,190.1 277.75,192.9 278,195.5 278.25,197.9 278.50,199.9 278.75,201.7 279,203.3 279.25,204.8 279.50,206.3 279.75,207.6 280,208.8 280.25,209.9 280.50,210.9 280.75,211.8 281,212.5 281.25,213.1 281.50,213.7 281.75,214.1 282,214.5 282.25,214.8 282.50,215.0 282.75,215.2 283,215.3 283.25,215.4 283.50,215.5 283.75,215.6 284,215.7 284.25,215.8 284.50,215.9 284.75,216.0 285,216.0 285.25,216.1 285.50,216.2 285.75,216.3 286,216.2 286.25,216.2 286.50,216.1 286.75,216.2 287,216.3 287.25,216.5 287.50,216.7 287.75,216.9 288,217.2 288.25,217.4 288.50,217.6 288.75,217.6 289,217.6 289.25,217.6 289.50,217.6 289.75,217.6 290,217.7 290.25,217.7 290.50,217.6 290.75,217.5 291,217.3 291.25,217.0 291.50,216.8 291.75,216.7 292,216.7 293,216.9 294,217.2 295,217.4 296,217.6 297,217.8 298,218.0 299,218.1 300,218.2 301,218.2 302,218.1 303,218.1 304,218.0 305,218.1 306,218.2 307,218.2 308,218.3 309,218.2 310,218.1 311,218.0 312,218.0 313,218.1 314,218.2 315,218.4 316,218.6 317,218.7 318,218.6 319,218.4 320,218.2 321,218.0 322,218.0 323,218.0 324,218.2 325,218.4 326,218.7 327,218.9 328,219.1 329,219.1 330,219.1 331,219.0 332,219.0 333,219.1 334,219.2 335,219.4 336,219.6 337,219.7 338,219.6 339,219.5 340,219.3 341,219.1 342,218.9 343,218.7 344,218.5 345,218.4 346,218.4 347,218.4 348,218.4 349,218.3 350,218.2 351,218.0 352,217.5 353,216.4 354,214.5 355,211.6 356,208.1 357,204.9 358,203.6 359,204.8 360,207.9 361,211.4 362,214.5 363,216.6 364,217.8 365,218.5 366,218.8 367,219.0 368,219.2 369,219.2 370,219.2 371,219.1 372,219.1 373,219.1 374,219.1 375,219.1 376,219.1 377,219.1 378,219.1 379,219.1 380,219.1 381,219.1 382,219.0 383,219.0 384,219.0 385,219.1 386,219.2 387,219.4 388,219.4 389,219.3 390,219.2 391,219.0 392,218.8 393,218.6 394,218.4 395,217.9 396,217.1 397,215.8 398,214.1 399,211.8 400,208.8 401,205.1 402,200.6 403,195.5 404,190.0 405,184.4 406,179.4 407,175.6 408,173.6 409,173.8 410,175.3 411,178.0 412,181.4 413,185.4 414,189.8 415,194.2 416,198.5 417,202.4 418,205.8 419,208.7 420,211.0 421,213.0 422,214.8 423,216.4 424,217.8 425,218.9 426,219.7 427,220.2 428,220.6 429,220.7 430,220.8 431,220.8 432,220.8 433,220.7 434,220.7 435,220.8 436,220.9 437,221.1 438,221.4 439,221.7 440,221.8 441,221.9 442,222.0 443,222.1 444,222.2 445,222.3 446,222.3 447,222.3 448,222.3 449,222.3 450,222.3 451,222.3 452,222.3 453,222.3 454,222.4 455,222.5 456,222.6 457,222.8 458,223.0 459,223.3 460,223.4 461,223.5 462,223.5 463,223.4 464,223.4 465,223.4 466,223.4 467,223.4 468,223.4 469,223.4 470,223.5 471,223.5 472,223.5 473,223.4 474,223.4 475,223.3 476,223.4 477,223.5 478,223.6 479,223.7 480,223.8 481,224.0 482,224.1 483,224.2 484,224.4 485,224.5 486,224.6 487,224.6 488,224.5 489,224.5 490,224.5 491,224.7 492,224.9 493,225.1 494,225.3 495,225.3 496,225.3 497,225.3 498,225.3 499,225.3 500,225.4 501,225.6 502,225.9 503,226.2 504,226.3 505,226.4 506,226.3 507,226.2 508,226.1 509,226.1 510,226.2 511,226.3 512,226.5 513,226.7 514,226.9 515,226.9 516,226.9 517,226.8 518,226.9 519,226.9 520,227.0 521,227.0 522,227.0 523,226.9 524,226.9 525,226.8 526,226.8 527,226.9 528,227.0 529,227.2 530,227.4 531,227.6 532,227.7 533,227.8 534,227.8 535,227.8 536,227.7 537,227.7 538,227.7 539,227.9 540,228.2 541,228.5 542,228.7 543,228.8 544,228.9 545,228.9 546,229.0 547,229.1 548,229.1 549,229.1 550,229.1 551,229.0 552,229.1 553,229.1 554,229.2 555,229.3 556,229.5 557,229.7 558,229.9 559,230.0 560,230.1 561,230.2 562,230.3 563,230.4 564,230.4 565,230.3 566,230.3 567,230.4 568,230.5 569,230.7 570,230.7 571,230.8 572,230.8 573,230.9 574,231.0 575,231.1 576,231.1 577,231.1 578,231.1 579,231.1 580,231.0 581,230.9 582,230.7 583,230.6 584,230.4 585,230.3 586,230.0 587,229.8 588,229.5 589,229.2 590,228.9 591,228.7 592,228.4 593,228.1 594,227.8 595,227.6 596,227.4 597,227.5 598,227.7 599,228.0 600,228.3 601,228.7 602,229.0 603,229.2 604,229.4 605,229.7 606,230.1 607,230.5 608,230.8 609,231.1 610,231.3 611,231.5 612,231.6 613,231.8 614,232.1 615,232.4 616,232.7 617,233.0 618,233.3 619,233.6 620,233.9 621,234.3 622,234.5 623,234.7 624,234.9 625,235.0 626,235.1 627,235.2 628,235.4 629,235.5 630,235.6 631,235.7 632,235.8 633,236.0 634,236.2 635,236.4 636,236.7 637,236.8 638,236.9 639,237.0 640,237.0 641,237.1 642,237.2 643,237.3 644,237.4 645,237.5 646,237.5 647,237.6 648,237.5 649,237.5 650,237.6 651,237.7 652,237.8 653,238.0 654,238.1 655,238.3 656,238.6 657,238.8 658,239.0 659,239.1 660,239.1 661,239.1 662,239.2 663,239.2 664,239.3 665,239.3 666,239.5 667,239.7 668,239.9 669,240.2 670,240.4 671,240.7 672,240.9 673,241.1 674,241.2 675,241.2 676,241.2" stroke="#629a62"/>
<polyline points="91,199.1 92,199.0 93,198.9 94,198.8 95,198.8 96,198.8 97,199.0 98,199.1 99,199.2 100,199.2 101,199.1 102,199.1 103,199.0 104,199.0 105,199.1 106,199.1 107,199.1 108,199.0 109,198.9 110,198.7 111,198.7 112,198.8 113,199.0 114,199.3 115,199.5 116,199.6 117,199.6 118,199.5 119,199.2 120,198.8 121,198.5 122,198.4 123,198.3 124,198.3 125,198.3 126,198.3 127,198.3 128,198.4 129,198.4 130,198.5 131,198.5 132,198.6 133,198.5 134,198.4 135,198.3 136,198.2 137,198.2 138,198.3 139,198.4 140,198.4 141,198.4 142,198.4 143,198.4 144,198.3 145,198.2 146,198.3 147,198.4 148,198.6 149,198.7 150,198.6 151,198.4 152,198.3 153,198.2 154,198.2 155,198.2 156,198.2 157,198.3 158,198.4 159,198.5 160,198.6 161,198.6 162,198.5 163,198.3 164,198.1 165,197.8 166,197.6 167,197.5 168,197.3 169,197.2 170,197.0 171,197.0 172,197.0 173,197.1 174,197.2 175,197.3 176,197.4 177,197.5 178,197.5 179,197.5 180,197.4 181,197.4 182,197.4 183,197.4 184,197.4 185,197.5 186,197.5 187,197.5 188,197.4 189,197.4 190,197.4 191,197.4 192,197.3 193,197.2 194,197.1 195,197.0 196,196.9 197,197.0 198,197.1 199,197.3 200,197.5 201,197.6 202,197.7 203,197.6 204,197.3 205,196.9 206,196.5 207,196.2 208,196.0 209,196.0 210,195.9 211,195.8 212,195.8 213,195.7 214,195.8 215,195.9 216,196.0 217,196.1 218,196.2 219,196.2 220,196.3 221,196.4 222,196.5 223,196.5 224,196.4 225,196.3 226,196.1 227,195.9 228,195.7 229,195.4 230,195.1 231,195.1 232,195.1 233,195.3 234,195.4 235,195.5 236,195.4 237,194.9 238,194.2 239,193.1 240,191.9 241,190.8 242,190.2 243,190.2 244,190.7 245,191.6 246,192.4 247,193.2 248,193.7 249,194.2 250,194.5 251,194.8 252,195.1 253,195.4 254,195.6 255,195.6 255.25,195.6 255.50,195.5 255.75,195.5 256,195.4 256.25,195.3 256.50,195.1 256.75,194.9 257,194.8 257.25,194.8 257.50,194.9 257.75,194.9 258,194.9 258.25,194.9 258.50,194.7 258.75,194.6 259,194.4 259.25,194.4 259.50,194.4 259.75,194.3 260,194.3 260.25,194.2 260.50,194.2 260.75,194.3 261,194.4 261.25,194.4 261.50,194.3 261.75,194.1 262,193.9 262.25,193.7 262.50,193.6 262.75,193.6 263,193.6 263.25,193.6 263.50,193.5 263.75,193.3 264,193.1 264.25,192.9 264.50,192.6 264.75,192.3 265,191.9 265.25,191.4 265.50,190.9 265.75,190.3 266,189.6 266.25,188.8 266.50,188.1 266.75,187.3 267,186.6 267.25,185.8 267.50,184.9 267.75,183.8 268,182.5 268.25,181.2 268.50,179.9 268.75,178.6 269,177.3 269.25,175.9 269.50,174.3 269.75,172.6 270,170.8 270.25,169.1 270.50,167.6 270.75,166.2 271,164.9 271.25,163.7 271.50,162.4 271.75,161.2 272,160.0 272.25,158.9 272.50,158.0 272.75,157.3 273,156.8 273.25,156.4 273.50,156.2 273.75,156.1 274,156.2 274.25,156.5 274.50,157.0 274.75,157.6 275,158.4 275.25,159.3 275.50,160.3 275.75,161.5 276,162.8 276.25,164.2 276.50,165.6 276.75,167.1 277,168.7 277.25,170.3 277.50,171.8 277.75,173.4 278,174.8 278.25,176.2 278.50,177.6 278.75,179.0 279,180.4 279.25,181.7 279.50,183.0 279.75,184.2 280,185.5 280.25,186.7 280.50,187.8 280.75,188.7 281,189.4 281.25,190.0 281.50,190.5 281.75,191.1 282,191.6 282.25,192.0 282.50,192.3 282.75,192.6 283,192.9 283.25,193.1 283.50,193.4 283.75,193.6 284,193.8 284.25,194.0 284.50,194.3 284.75,194.4 285,194.5 285.25,194.6 285.50,194.5 285.75,194.4 286,194.3 286.25,194.2 286.50,194.3 286.75,194.4 287,194.6 287.25,194.8 287.50,195.0 287.75,195.0 288,195.0 288.25,195.0 288.50,194.9 288.75,194.9 289,194.9 289.25,195.0 289.50,195.2 289.75,195.3 290,195.4 290.25,195.5 290.50,195.6 290.75,195.6 291,195.6 291.25,195.5 291.50,195.5 291.75,195.4 292,195.4 293,195.5 294,195.6 295,195.6 296,195.5 297,195.5 298,195.4 299,195.3 300,195.3 301,195.2 302,195.2 303,195.3 304,195.5 305,195.6 306,195.6 307,195.6 308,195.5 309,195.4 310,195.3 311,195.4 312,195.4 313,195.5 314,195.5 315,195.5 316,195.5 317,195.5 318,195.6 319,195.7 320,195.8 321,195.9 322,196.0 323,196.0 324,196.0 325,196.0 326,196.0 327,196.1 328,196.1 329,196.1 330,196.2 331,196.3 332,196.5 333,196.7 334,196.8 335,197.0 336,197.0 337,196.9 338,196.8 339,196.5 340,196.2 341,196.0 342,195.8 343,195.6 344,195.5 345,195.6 346,195.8 347,196.1 348,196.3 349,196.5 350,196.5 351,196.3 352,195.9 353,195.0 354,193.2 355,190.2 356,186.2 357,181.8 358,178.5 359,178.0 360,180.6 361,184.9 362,189.2 363,192.7 364,194.9 365,196.1 366,196.6 367,196.8 368,196.8 369,196.7 370,196.5 371,196.4 372,196.4 373,196.4 374,196.5 375,196.8 376,197.0 377,197.3 378,197.4 379,197.5 380,197.4 381,197.3 382,197.1 383,197.0 384,196.9 385,196.9 386,196.9 387,196.8 388,196.7 389,196.6 390,196.4 391,196.2 392,196.0 393,195.8 394,195.5 395,195.2 396,194.7 397,194.0 398,193.0 399,191.6 400,189.6 401,187.0 402,183.6 403,179.5 404,174.5 405,168.8 406,162.7 407,156.6 408,151.1 409,146.9 410,144.9 411,145.3 412,147.4 413,150.8 414,155.1 415,160.0 416,165.0 417,170.1 418,174.9 419,179.2 420,183.1 421,186.3 422,189.0 423,191.2 424,192.9 425,194.2 426,195.3 427,196.1 428,196.7 429,197.1 430,197.3 431,197.4 432,197.5 433,197.6 434,197.8 435,197.9 436,198.1 437,198.2 438,198.3 439,198.5 440,198.7 441,198.8 442,199.0 443,199.1 444,199.1 445,199.1 446,199.0 447,199.1 448,199.1 449,199.2 450,199.3 451,199.5 452,199.7 453,200.0 454,200.1 455,200.3 456,200.4 457,200.4 458,200.4 459,200.5 460,200.6 461,200.7 462,200.8 463,200.8 464,200.8 465,200.7 466,200.8 467,200.8 468,200.8 469,200.8 470,200.7 471,200.6 472,200.5 473,200.5 474,200.6 475,200.9 476,201.2 477,201.4 478,201.6 479,201.7 480,201.8 481,201.8 482,201.8 483,201.8 484,201.8 485,201.7 486,201.7 487,201.8 488,202.0 489,202.2 490,202.5 491,202.6 492,202.7 493,202.6 494,202.4 495,202.3 496,202.3 497,202.4 498,202.5 499,202.6 500,202.7 501,202.8 502,203.0 503,203.2 504,203.4 505,203.5 506,203.5 507,203.4 508,203.3 509,203.3 510,203.4 511,203.6 512,203.8 513,204.0 514,204.2 515,204.3 516,204.3 517,204.4 518,204.5 519,204.7 520,204.8 521,204.9 522,204.8 523,204.7 524,204.5 525,204.3 526,204.3 527,204.4 528,204.7 529,205.0 530,205.3 531,205.5 532,205.8 533,206.0 534,206.3 535,206.4 536,206.5 537,206.4 538,206.4 539,206.3 540,206.2 541,206.1 542,206.0 543,206.0 544,206.0 545,206.0 546,206.1 547,206.3 548,206.5 549,206.8 550,207.0 551,207.2 552,207.2 553,207.2 554,207.2 555,207.1 556,207.1 557,207.0 558,207.0 559,207.1 560,207.4 561,207.6 562,207.8 563,208.0 564,208.0 565,208.1 566,208.1 567,208.1 568,208.1 569,208.1 570,208.1 571,208.0 572,208.0 573,208.1 574,208.2 575,208.4 576,208.7 577,209.0 578,209.3 579,209.5 580,209.5 581,209.5 582,209.4 583,209.3 584,209.0 585,208.7 586,208.4 587,208.2 588,208.0 589,207.8 590,207.6 591,207.4 592,207.4 593,207.4 594,207.6 595,207.6 596,207.6 597,207.6 598,207.5 599,207.5 600,207.6 601,207.9 602,208.3 603,208.7 604,208.9 605,209.1 606,209.2 607,209.2 608,209.4 609,209.5 610,209.7 611,209.9 612,210.1 613,210.2 614,210.3 615,210.4 616,210.6 617,210.8 618,211.0 619,211.2 620,211.4 621,211.6 622,211.8 623,212.0 624,212.2 625,212.3 626,212.4 627,212.6 628,212.8 629,213.0 630,213.1 631,213.2 632,213.4 633,213.6 634,213.7 635,213.8 636,213.9 637,214.0 638,214.2 639,214.3 640,214.4 641,214.4 642,214.4 643,214.3 644,214.2 645,214.2 646,214.4 647,214.6 648,214.9 649,215.2 650,215.4 651,215.4 652,215.4 653,215.4 654,215.4 655,215.5 656,215.7 657,215.9 658,216.2 659,216.5 660,216.8 661,217.0 662,217.2 663,217.4 664,217.5 665,217.5 666,217.5 667,217.4 668,217.3 669,217.3 670,217.3 671,217.3 672,217.4 673,217.4 674,217.5 675,217.7 676,217.8" stroke="#35659a"/>
<polyline points="91,178.8 92,178.9 93,179.0 94,179.1 95,179.2 96,179.3 97,179.4 98,179.5 99,179.6 100,179.5 101,179.5 102,179.3 103,179.1 104,179.0 105,179.0 106,179.0 107,179.1 108,179.2 109,179.3 110,179.5 111,179.6 112,179.7 113,179.7 114,179.6 115,179.3 116,179.0 117,178.8 118,178.8 119,178.7 120,178.7 121,178.7 122,178.7 123,178.8 124,178.9 125,178.9 126,178.9 127,178.7 128,178.6 129,178.5 130,178.4 131,178.3 132,178.2 133,178.2 134,178.2 135,178.3 136,178.4 137,178.5 138,178.5 139,178.5 140,178.5 141,178.5 142,178.5 143,178.6 144,178.6 145,178.5 146,178.4 147,178.3 148,178.1 149,178.0 150,177.8 151,177.7 152,177.7 153,177.8 154,177.9 155,178.2 156,178.5 157,178.8 158,179.0 159,178.9 160,178.7 161,178.3 162,177.9 163,177.6 164,177.4 165,177.3 166,177.3 167,177.4 168,177.6 169,177.7 170,177.8 171,177.7 172,177.6 173,177.5 174,177.4 175,177.4 176,177.5 177,177.7 178,177.8 179,178.0 180,178.0 181,178.0 182,177.9 183,177.7 184,177.5 185,177.5 186,177.5 187,177.6 188,177.6 189,177.4 190,177.0 191,176.7 192,176.4 193,176.2 194,176.2 195,176.3 196,176.3 197,176.4 198,176.5 199,176.6 200,176.7 201,176.8 202,176.9 203,176.9 204,177.0 205,177.1 206,177.1 207,177.1 208,177.0 209,177.0 210,176.9 211,176.7 212,176.5 213,176.4 214,176.2 215,176.1 216,176.2 217,176.2 218,176.3 219,176.4 220,176.5 221,176.6 222,176.7 223,176.6 224,176.4 225,176.2 226,176.0 227,175.7 228,175.5 229,175.2 230,175.1 231,175.2 232,175.3 233,175.5 234,175.5 235,175.5 236,175.4 237,175.2 238,174.9 239,174.4 240,173.8 241,173.0 242,172.1 243,171.2 244,170.3 245,169.7 246,169.6 247,170.1 248,170.9 249,171.9 250,172.9 251,173.8 252,174.6 253,175.2 254,175.4 255,175.4 255.25,175.3 255.50,175.2 255.75,175.1 256,175.1 256.25,175.1 256.50,175.1 256.75,174.9 257,174.7 257.25,174.6 257.50,174.6 257.75,174.6 258,174.7 258.25,174.8 258.50,174.8 258.75,174.9 259,175.0 259.25,175.0 259.50,175.0 259.75,174.9 260,174.8 260.25,174.7 260.50,174.7 260.75,174.8 261,174.8 261.25,174.9 261.50,174.8 261.75,174.8 262,174.7 262.25,174.6 262.50,174.5 262.75,174.4 263,174.2 263.25,173.9 263.50,173.7 263.75,173.5 264,173.4 264.25,173.4 264.50,173.6 264.75,173.9 265,174.1 265.25,174.2 265.50,174.2 265.75,174.2 266,174.0 266.25,174.0 266.50,174.0 266.75,174.0 267,173.9 267.25,173.6 267.50,173.2 267.75,172.7 268,172.3 268.25,171.8 268.50,171.4 268.75,170.9 269,170.3 269.25,169.7 269.50,169.1 269.75,168.6 270,168.2 270.25,167.9 270.50,167.6 270.75,167.2 271,166.8 271.25,166.3 271.50,165.9 271.75,165.5 272,165.2 272.25,165.0 272.50,164.9 272.75,164.7 273,164.5 273.25,164.4 273.50,164.1 273.75,163.8 274,163.5 274.25,163.3 274.50,163.2 274.75,163.3 275,163.5 275.25,163.9 275.50,164.3 275.75,164.8 276,165.3 276.25,165.8 276.50,166.1 276.75,166.3 277,166.5 277.25,166.7 277.50,166.9 277.75,167.2 278,167.4 278.25,167.6 278.50,167.8 278.75,168.1 279,168.6 279.25,169.2 279.50,169.9 279.75,170.5 280,171.1 280.25,171.5 280.50,171.8 280.75,172.1 281,172.3 281.25,172.5 281.50,172.8 281.75,173.0 282,173.3 282.25,173.4 282.50,173.4 282.75,173.5 283,173.6 283.25,173.8 283.50,173.9 283.75,173.9 284,173.8 284.25,173.7 284.50,173.6 284.75,173.6 285,173.7 285.25,173.8 285.50,173.9 285.75,174.0 286,174.2 286.25,174.4 286.50,174.7 286.75,175.0 287,175.2 287.25,175.3 287.50,175.5 287.75,175.6 288,175.7 288.25,175.9 288.50,175.9 288.75,175.9 289,175.9 289.25,175.7 289.50,175.5 289.75,175.2 290,175.1 290.25,175.1 290.50,175.1 290.75,175.1 291,175.1 291.25,175.0 291.50,175.0 291.75,175.0 292,175.1 293,175.2 294,175.2 295,175.2 296,175.1 297,175.0 298,174.9 299,174.9 300,175.0 301,175.1 302,175.1 303,175.0 304,174.9 305,174.8 306,174.7 307,174.7 308,174.8 309,175.0 310,175.3 311,175.5 312,175.7 313,175.7 314,175.7 315,175.7 316,175.8 317,175.8 318,175.8 319,175.7 320,175.6 321,175.5 322,175.4 323,175.4 324,175.5 325,175.5 326,175.6 327,175.6 328,175.8 329,176.0 330,176.3 331,176.6 332,176.8 333,176.9 334,176.9 335,176.8 336,176.8 337,176.8 338,176.9 339,177.0 340,177.0 341,177.0 342,176.8 343,176.6 344,176.4 345,176.2 346,176.1 347,176.2 348,176.4 349,176.6 350,176.9 351,177.0 352,176.9 353,176.5 354,175.9 355,175.0 356,173.4 357,170.7 358,166.7 359,161.6 360,156.5 361,153.2 362,153.6 363,157.4 364,162.8 365,168.0 366,172.1 367,174.7 368,176.2 369,176.8 370,177.0 371,177.0 372,177.0 373,177.1 374,177.3 375,177.4 376,177.5 377,177.4 378,177.4 379,177.3 380,177.1 381,176.9 382,176.7 383,176.6 384,176.4 385,176.3 386,176.3 387,176.4 388,176.5 389,176.6 390,176.6 391,176.6 392,176.7 393,176.7 394,176.8 395,176.8 396,176.6 397,176.3 398,175.7 399,174.8 400,173.4 401,171.7 402,169.4 403,166.5 404,162.9 405,158.4 406,153.0 407,146.7 408,139.9 409,133.1 410,126.9 411,122.0 412,119.4 413,119.2 414,120.9 415,124.0 416,128.4 417,133.6 418,139.2 419,145.0 420,150.5 421,155.6 422,160.1 423,163.8 424,166.9 425,169.3 426,171.2 427,172.8 428,174.1 429,175.2 430,176.1 431,176.7 432,177.1 433,177.3 434,177.3 435,177.3 436,177.3 437,177.5 438,177.8 439,178.2 440,178.4 441,178.6 442,178.8 443,179.0 444,179.2 445,179.3 446,179.4 447,179.5 448,179.4 449,179.4 450,179.4 451,179.5 452,179.5 453,179.5 454,179.5 455,179.6 456,179.7 457,179.9 458,180.1 459,180.3 460,180.4 461,180.5 462,180.6 463,180.6 464,180.6 465,180.6 466,180.5 467,180.4 468,180.3 469,180.2 470,180.2 471,180.2 472,180.3 473,180.4 474,180.4 475,180.5 476,180.6 477,180.8 478,181.0 479,181.2 480,181.3 481,181.5 482,181.5 483,181.5 484,181.4 485,181.2 486,180.9 487,180.8 488,180.9 489,181.3 490,181.7 491,182.1 492,182.4 493,182.6 494,182.7 495,182.7 496,182.8 497,182.7 498,182.7 499,182.7 500,182.7 501,182.7 502,182.7 503,182.7 504,182.9 505,183.0 506,183.1 507,183.3 508,183.5 509,183.7 510,184.0 511,184.2 512,184.4 513,184.5 514,184.4 515,184.4 516,184.5 517,184.6 518,184.7 519,184.7 520,184.6 521,184.4 522,184.2 523,184.0 524,183.9 525,184.0 526,184.2 527,184.5 528,184.8 529,185.0 530,185.1 531,185.0 532,185.0 533,185.1 534,185.1 535,185.2 536,185.2 537,185.1 538,185.1 539,185.2 540,185.3 541,185.5 542,185.8 543,186.0 544,186.2 545,186.3 546,186.5 547,186.5 548,186.6 549,186.6 550,186.6 551,186.5 552,186.4 553,186.3 554,186.2 555,186.2 556,186.3 557,186.4 558,186.5 559,186.6 560,186.6 561,186.8 562,187.1 563,187.4 564,187.8 565,188.2 566,188.4 567,188.6 568,188.6 569,188.5 570,188.3 571,188.2 572,188.3 573,188.5 574,188.8 575,188.9 576,189.0 577,188.9 578,188.9 579,188.9 580,189.0 581,189.0 582,189.0 583,189.0 584,188.9 585,188.9 586,188.9 587,188.9 588,188.8 589,188.7 590,188.7 591,188.9 592,189.0 593,189.2 594,189.2 595,189.2 596,189.1 597,189.1 598,189.1 599,189.0 600,189.0 601,188.9 602,188.9 603,188.9 604,189.0 605,189.1 606,189.3 607,189.6 608,189.8 609,190.1 610,190.4 611,190.7 612,190.9 613,191.0 614,191.2 615,191.3 616,191.4 617,191.6 618,191.7 619,191.9 620,192.0 621,192.0 622,191.9 623,191.9 624,192.0 625,192.3 626,192.7 627,193.2 628,193.5 629,193.6 630,193.6 631,193.5 632,193.3 633,193.3 634,193.4 635,193.7 636,194.0 637,194.2 638,194.3 639,194.2 640,194.0 641,193.8 642,193.7 643,193.7 644,193.9 645,194.1 646,194.4 647,194.6 648,194.8 649,194.9 650,195.0 651,195.0 652,195.1 653,195.1 654,195.2 655,195.3 656,195.4 657,195.7 658,196.0 659,196.2 660,196.5 661,196.6 662,196.7 663,196.8 664,196.8 665,196.9 666,197.0 667,197.1 668,197.1 669,197.1 670,197.1 671,197.1 672,197.2 673,197.3 674,197.5 675,197.7 676,197.9" stroke="#ff0000"/>
<polyline points="91,157.5 92,157.6 93,157.7 94,157.7 95,157.8 96,157.7 97,157.6 98,157.6 99,157.5 100,157.4 101,157.4 102,157.3 103,157.3 104,157.2 105,157.1 106,157.1 107,157.2 108,157.3 109,157.4 110,157.6 111,157.6 112,157.7 113,157.7 114,157.8 115,157.7 116,157.7 117,157.6 118,157.6 119,157.5 120,157.5 121,157.5 122,157.4 123,157.4 124,157.4 125,157.4 126,157.4 127,157.3 128,157.2 129,157.1 130,157.0 131,156.9 132,156.8 133,156.8 134,156.8 135,156.9 136,157.0 137,157.1 138,157.2 139,157.2 140,157.1 141,157.0 142,156.9 143,157.0 144,157.1 145,157.2 146,157.3 147,157.2 148,157.1 149,157.0 150,156.8 151,156.6 152,156.5 153,156.4 154,156.4 155,156.3 156,156.3 157,156.2 158,156.2 159,156.1 160,156.0 161,156.0 162,156.1 163,156.2 164,156.3 165,156.4 166,156.4 167,156.5 168,156.5 169,156.6 170,156.8 171,157.1 172,157.2 173,157.2 174,157.1 175,156.9 176,156.6 177,156.5 178,156.4 179,156.3 180,156.3 181,156.3 182,156.1 183,156.0 184,155.8 185,155.6 186,155.5 187,155.4 188,155.4 189,155.4 190,155.3 191,155.4 192,155.4 193,155.6 194,155.7 195,155.7 196,155.8 197,155.8 198,155.8 199,155.8 200,155.7 201,155.6 202,155.4 203,155.3 204,155.2 205,155.2 206,155.1 207,155.1 208,155.1 209,155.1 210,155.1 211,155.1 212,155.1 213,155.1 214,155.1 215,155.1 216,155.1 217,155.1 218,155.1 219,155.1 220,155.0 221,154.9 222,154.9 223,155.0 224,155.2 225,155.4 226,155.5 227,155.4 228,155.4 229,155.3 230,155.3 231,155.3 232,155.3 233,155.3 234,155.2 235,155.0 236,154.8 237,154.6 238,154.4 239,154.1 240,153.9 241,153.7 242,153.4 243,152.9 244,152.1 245,151.1 246,150.0 247,149.1 248,148.6 249,148.8 250,149.5 251,150.5 252,151.6 253,152.5 254,153.0 255,153.3 255.25,153.3 255.50,153.2 255.75,153.2 256,153.3 256.25,153.5 256.50,153.7 256.75,153.9 257,154.0 257.25,154.1 257.50,154.1 257.75,154.3 258,154.4 258.25,154.4 258.50,154.4 258.75,154.3 259,154.1 259.25,153.8 259.50,153.6 259.75,153.5 260,153.5 260.25,153.6 260.50,153.8 260.75,153.8 261,153.8 261.25,153.8 261.50,153.8 261.75,153.8 262,153.7 262.25,153.6 262.50,153.4 262.75,153.2 263,153.1 263.25,153.1 263.50,153.3 263.75,153.5 264,153.8 264.25,154.0 264.50,154.1 264.75,154.0 265,153.8 265.25,153.6 265.50,153.4 265.75,153.3 266,153.2 266.25,153.2 266.50,153.2 266.75,153.2 267,153.1 267.25,153.0 267.50,152.8 267.75,152.7 268,152.6 268.25,152.6 268.50,152.7 268.75,152.8 269,153.0 269.25,153.1 269.50,153.1 269.75,153.0 270,152.8 270.25,152.5 270.50,152.1 270.75,151.7 271,151.3 271.25,150.9 271.50,150.7 271.75,150.6 272,150.5 272.25,150.3 272.50,150.2 272.75,150.1 273,150.1 273.25,150.0 273.50,149.9 273.75,149.8 274,149.7 274.25,149.7 274.50,149.7 274.75,149.7 275,149.7 275.25,149.8 275.50,149.8 275.75,150.0 276,150.2 276.25,150.5 276.50,150.8 276.75,151.0 277,151.2 277.25,151.3 277.50,151.5 277.75,151.7 278,152.0 278.25,152.2 278.50,152.4 278.75,152.6 279,152.6 279.25,152.7 279.50,152.7 279.75,152.7 280,152.7 280.25,152.7 280.50,152.8 280.75,152.8 281,152.9 281.25,152.9 281.50,153.0 281.75,153.0 282,153.1 282.25,153.3 282.50,153.5 282.75,153.7 283,153.8 283.25,153.8 283.50,153.8 283.75,153.7 284,153.7 284.25,153.7 284.50,153.6 284.75,153.6 285,153.6 285.25,153.5 285.50,153.5 285.75,153.4 286,153.4 286.25,153.4 286.50,153.4 286.75,153.4 287,153.3 287.25,153.2 287.50,153.2 287.75,153.3 288,153.6 288.25,154.0 288.50,154.3 288.75,154.4 289,154.4 289.25,154.4 289.50,154.3 289.75,154.3 290,154.3 290.25,154.1 290.50,153.9 290.75,153.7 291,153.6 291.25,153.6 291.50,153.7 291.75,153.9 292,154.0 293,154.2 294,154.3 295,154.5 296,154.6 297,154.7 298,154.7 299,154.6 300,154.5 301,154.4 302,154.2 303,154.1 304,154.1 305,154.1 306,154.3 307,154.4 308,154.5 309,154.6 310,154.6 311,154.6 312,154.6 313,154.7 314,154.9 315,155.1 316,155.3 317,155.4 318,155.4 319,155.5 320,155.6 321,155.6 322,155.7 323,155.6 324,155.4 325,155.1 326,154.8 327,154.6 328,154.5 329,154.5 330,154.7 331,154.8 332,155.0 333,155.1 334,155.2 335,155.3 336,155.4 337,155.4 338,155.4 339,155.4 340,155.4 341,155.5 342,155.5 343,155.5 344,155.5 345,155.3 346,155.2 347,155.1 348,155.0 349,155.0 350,154.9 351,155.0 352,155.1 353,155.1 354,155.1 355,154.8 356,154.2 357,153.2 358,151.5 359,148.8 360,144.9 361,140.2 362,135.6 363,133.2 364,134.3 365,138.3 366,143.4 367,148.0 368,151.4 369,153.5 370,154.6 371,155.2 372,155.4 373,155.4 374,155.5 375,155.5 376,155.5 377,155.6 378,155.7 379,155.9 380,155.9 381,155.8 382,155.6 383,155.3 384,155.0 385,154.9 386,155.0 387,155.0 388,155.2 389,155.3 390,155.5 391,155.7 392,155.9 393,156.0 394,155.9 395,155.7 396,155.4 397,155.2 398,154.9 399,154.6 400,154.2 401,153.6 402,152.5 403,150.9 404,148.9 405,146.3 406,143.0 407,138.7 408,133.5 409,127.5 410,120.9 411,114.2 412,107.9 413,102.7 414,99.5 415,98.9 416,100.3 417,103.3 418,107.5 419,112.5 420,117.8 421,123.1 422,128.2 423,132.9 424,137.3 425,141.1 426,144.4 427,147.2 428,149.5 429,151.3 430,152.7 431,153.7 432,154.6 433,155.2 434,155.8 435,156.3 436,156.7 437,157.0 438,157.1 439,157.1 440,157.1 441,157.0 442,157.0 443,157.2 444,157.4 445,157.6 446,157.8 447,158.0 448,158.2 449,158.4 450,158.4 451,158.4 452,158.4 453,158.4 454,158.6 455,158.8 456,158.9 457,159.0 458,159.1 459,159.0 460,158.9 461,158.9 462,158.8 463,158.8 464,158.8 465,158.7 466,158.8 467,158.8 468,159.0 469,159.1 470,159.3 471,159.4 472,159.6 473,159.8 474,159.9 475,160.0 476,160.1 477,160.1 478,160.2 479,160.4 480,160.5 481,160.6 482,160.8 483,160.9 484,161.1 485,161.1 486,161.1 487,161.1 488,161.0 489,161.0 490,161.0 491,161.1 492,161.2 493,161.4 494,161.6 495,161.8 496,161.9 497,161.9 498,161.9 499,161.8 500,161.8 501,161.9 502,162.0 503,162.0 504,162.0 505,162.0 506,162.0 507,162.2 508,162.3 509,162.5 510,162.5 511,162.5 512,162.5 513,162.5 514,162.6 515,162.7 516,163.0 517,163.1 518,163.1 519,163.0 520,162.8 521,162.7 522,162.7 523,162.8 524,162.9 525,162.9 526,162.9 527,163.0 528,163.1 529,163.3 530,163.5 531,163.6 532,163.8 533,164.1 534,164.4 535,164.6 536,164.8 537,164.9 538,164.9 539,164.9 540,164.8 541,164.7 542,164.5 543,164.5 544,164.6 545,164.8 546,165.1 547,165.4 548,165.6 549,165.6 550,165.5 551,165.3 552,165.1 553,165.0 554,165.0 555,165.1 556,165.4 557,165.7 558,166.1 559,166.4 560,166.7 561,166.9 562,167.0 563,167.1 564,167.2 565,167.3 566,167.3 567,167.3 568,167.3 569,167.4 570,167.5 571,167.5 572,167.5 573,167.4 574,167.2 575,167.2 576,167.2 577,167.2 578,167.3 579,167.5 580,167.8 581,168.0 582,168.3 583,168.5 584,168.7 585,168.8 586,168.8 587,168.6 588,168.5 589,168.4 590,168.3 591,168.3 592,168.3 593,168.4 594,168.4 595,168.4 596,168.5 597,168.5 598,168.5 599,168.5 600,168.4 601,168.3 602,168.2 603,168.2 604,168.3 605,168.5 606,168.8 607,169.0 608,169.2 609,169.4 610,169.7 611,170.1 612,170.5 613,170.7 614,170.9 615,171.0 616,171.1 617,171.0 618,170.9 619,170.8 620,170.8 621,170.8 622,170.9 623,171.0 624,171.2 625,171.3 626,171.5 627,171.7 628,172.0 629,172.3 630,172.6 631,172.8 632,172.7 633,172.6 634,172.3 635,172.2 636,172.2 637,172.3 638,172.4 639,172.7 640,172.9 641,173.0 642,173.2 643,173.2 644,173.2 645,173.3 646,173.4 647,173.6 648,173.7 649,173.9 650,173.9 651,173.9 652,173.9 653,173.9 654,173.9 655,173.9 656,174.0 657,174.2 658,174.5 659,174.8 660,175.1 661,175.3 662,175.4 663,175.5 664,175.5 665,175.6 666,175.7 667,175.9 668,176.1 669,176.3 670,176.5 671,176.7 672,176.8 673,176.8 674,176.7 675,176.7 676,176.7" stroke="#ff00ff"/>
</g>
<g stroke-width="2" fill="none">
<path d="M237,433V446M353.6,435V446.4" stroke="#0000ff"/>
<path d="M269.4,416V428.6M405.8,420.6V433.6M592,429.3V441.4" stroke="#000"/>
<path d="M539.1,426.5L553.8,157" stroke="#000" stroke-width="1.9"/>
</g>
<path d="M554.3,147.3L557.5,159L554,157.5L550,159Z" fill="#000"/>
<rect x="91.45" y="0.95" width="594.75" height="454.95" fill="none" stroke="#000" stroke-width="1.9"/>
<path d="M151.00,455.9V451.4M151.00,0.95V5.45M210.50,455.9V446.9M210.50,0.95V9.95M270.00,455.9V451.4M270.00,0.95V5.45M329.50,455.9V446.9M329.50,0.95V9.95M389.00,455.9V451.4M389.00,0.95V5.45M448.50,455.9V446.9M448.50,0.95V9.95M508.00,455.9V451.4M508.00,0.95V5.45M567.50,455.9V446.9M567.50,0.95V9.95M627.00,455.9V451.4M627.00,0.95V5.45M91.45,446.60H100.45M686.2,446.60H677.2M91.45,398.20H95.95M686.2,398.20H681.7M91.45,349.80H100.45M686.2,349.80H677.2M91.45,301.40H95.95M686.2,301.40H681.7M91.45,253.00H100.45M686.2,253.00H677.2M91.45,204.60H95.95M686.2,204.60H681.7M91.45,156.20H100.45M686.2,156.20H677.2M91.45,107.80H95.95M686.2,107.80H681.7M91.45,59.40H100.45M686.2,59.40H677.2M91.45,11.00H95.95M686.2,11.00H681.7" stroke="#000" stroke-width="1.9" fill="none"/>
<g font-size="28"><text x="91.50" y="487.5" text-anchor="middle">10</text><text x="210.50" y="487.5" text-anchor="middle">12</text><text x="329.50" y="487.5" text-anchor="middle">14</text><text x="448.50" y="487.5" text-anchor="middle">16</text><text x="567.50" y="487.5" text-anchor="middle">18</text><text x="686.50" y="487.5" text-anchor="middle">20</text><text x="81.5" y="455.10" text-anchor="end">0</text><text x="81.5" y="358.30" text-anchor="end">50</text><text x="81.5" y="261.50" text-anchor="end">100</text><text x="81.5" y="164.70" text-anchor="end">150</text><text x="81.5" y="67.90" text-anchor="end">200</text></g>
<text x="129" y="48.8" font-size="28.5">KCl</text>
<text x="470" y="42.4" font-size="28.5">B1-B2 transition</text>
<text x="456.7" y="128.8" font-size="24.4">Com. Rate: 0.37 GPa/s</text>
<text x="457" y="155.3" font-size="24.3">3.49 GPa</text>
<text x="444" y="418.2" font-size="24.5">2.36 GPa</text>
<text x="152.5" y="432" font-size="19.6">KCl</text>
<text x="149" y="450" font-size="19.9" style="fill:#0000ff;stroke:#0000ff">NaCl</text>
<text x="316" y="527.2" font-size="37">2θ (degrees)</text>
<text transform="translate(25.7,316) rotate(-90)" font-size="36.5">Intensities</text>
<g font-size="18.5">
<text transform="translate(254.9,141.5) rotate(-90)" font-size="19" style="fill:#0000ff;stroke:#0000ff">B1(111)</text>
<text transform="translate(289.5,140) rotate(-90)">B1(200)</text>
<text transform="translate(372.7,129.8) rotate(-90)" style="fill:#0000ff;stroke:#0000ff">B1(200)</text>
<text transform="translate(441,139.5) rotate(-90)" font-size="19">B2(110)</text>
<text transform="translate(597.7,254) rotate(-90)">B1(220)</text>
</g>
</svg>
</body></html>
